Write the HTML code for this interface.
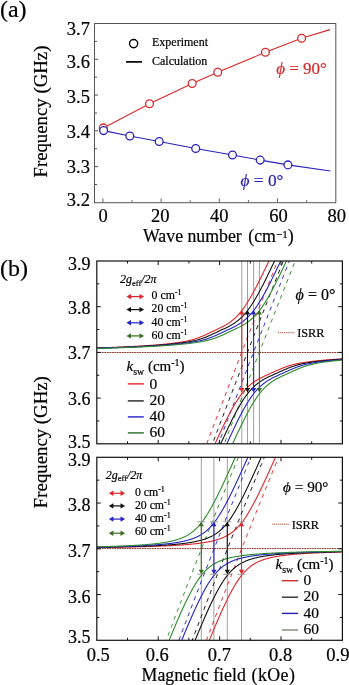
<!DOCTYPE html>
<html><head><meta charset="utf-8"><style>
html,body{margin:0;padding:0;background:#fff;width:349px;height:685px;overflow:hidden}
svg{display:block;filter:blur(0.25px)}
text{font-family:"Liberation Serif","Times New Roman",serif;stroke-width:0.2px}
</style></head><body>
<svg width="349" height="685" viewBox="0 0 349 685">
<rect width="349" height="685" fill="#fff"/>
<rect x="94.5" y="23.5" width="241.3" height="179.2" fill="none" stroke="#555" stroke-width="1"/>
<line x1="94.5" y1="184.51" x2="97.0" y2="184.51" stroke="#555" stroke-width="1"/>
<line x1="94.5" y1="166.62" x2="98.0" y2="166.62" stroke="#555" stroke-width="1"/>
<line x1="94.5" y1="148.73" x2="97.0" y2="148.73" stroke="#555" stroke-width="1"/>
<line x1="94.5" y1="130.84" x2="98.0" y2="130.84" stroke="#555" stroke-width="1"/>
<line x1="94.5" y1="112.95" x2="97.0" y2="112.95" stroke="#555" stroke-width="1"/>
<line x1="94.5" y1="95.06" x2="98.0" y2="95.06" stroke="#555" stroke-width="1"/>
<line x1="94.5" y1="77.17" x2="97.0" y2="77.17" stroke="#555" stroke-width="1"/>
<line x1="94.5" y1="59.28" x2="98.0" y2="59.28" stroke="#555" stroke-width="1"/>
<line x1="94.5" y1="41.39" x2="97.0" y2="41.39" stroke="#555" stroke-width="1"/>
<line x1="102.90" y1="202.7" x2="102.90" y2="198.39999999999998" stroke="#666" stroke-width="1"/>
<line x1="132.01" y1="202.7" x2="132.01" y2="200.1" stroke="#666" stroke-width="1"/>
<line x1="161.12" y1="202.7" x2="161.12" y2="198.39999999999998" stroke="#666" stroke-width="1"/>
<line x1="190.23" y1="202.7" x2="190.23" y2="200.1" stroke="#666" stroke-width="1"/>
<line x1="219.34" y1="202.7" x2="219.34" y2="198.39999999999998" stroke="#666" stroke-width="1"/>
<line x1="248.45" y1="202.7" x2="248.45" y2="200.1" stroke="#666" stroke-width="1"/>
<line x1="277.56" y1="202.7" x2="277.56" y2="198.39999999999998" stroke="#666" stroke-width="1"/>
<line x1="306.67" y1="202.7" x2="306.67" y2="200.1" stroke="#666" stroke-width="1"/>
<path d="M103.3,127.9 L149.5,103.7 L192.2,83.5 L217.7,72.2 L265.4,52.3 L301.6,38.3 L330.0,29.6" fill="none" stroke="#d42a2a" stroke-width="1.1"/>
<path d="M103.6,130.6 L129.8,136.0 L159.2,141.5 L195.7,148.5 L232.5,155.0 L260.2,160.1 L287.9,164.9 L330.5,171.0" fill="none" stroke="#2a22b8" stroke-width="1.1"/>
<circle cx="103.3" cy="127.9" r="3.9" fill="#fff" stroke="#d42a2a" stroke-width="1.3"/>
<circle cx="149.5" cy="103.7" r="3.9" fill="#fff" stroke="#d42a2a" stroke-width="1.3"/>
<circle cx="192.2" cy="83.5" r="3.9" fill="#fff" stroke="#d42a2a" stroke-width="1.3"/>
<circle cx="217.7" cy="72.2" r="3.9" fill="#fff" stroke="#d42a2a" stroke-width="1.3"/>
<circle cx="265.4" cy="52.3" r="3.9" fill="#fff" stroke="#d42a2a" stroke-width="1.3"/>
<circle cx="301.6" cy="38.3" r="3.9" fill="#fff" stroke="#d42a2a" stroke-width="1.3"/>
<circle cx="103.6" cy="130.6" r="3.9" fill="#fff" stroke="#2a22b8" stroke-width="1.3"/>
<circle cx="129.8" cy="136.0" r="3.9" fill="#fff" stroke="#2a22b8" stroke-width="1.3"/>
<circle cx="159.2" cy="141.5" r="3.9" fill="#fff" stroke="#2a22b8" stroke-width="1.3"/>
<circle cx="195.7" cy="148.5" r="3.9" fill="#fff" stroke="#2a22b8" stroke-width="1.3"/>
<circle cx="232.5" cy="155.0" r="3.9" fill="#fff" stroke="#2a22b8" stroke-width="1.3"/>
<circle cx="260.2" cy="160.1" r="3.9" fill="#fff" stroke="#2a22b8" stroke-width="1.3"/>
<circle cx="287.9" cy="164.9" r="3.9" fill="#fff" stroke="#2a22b8" stroke-width="1.3"/>
<circle cx="133.6" cy="43.6" r="4.1" fill="none" stroke="#000" stroke-width="1.4"/>
<line x1="126.1" y1="61.9" x2="142" y2="61.9" stroke="#000" stroke-width="1.7"/>
<clipPath id="clip0"><rect x="96.8" y="261.0" width="245.59999999999997" height="182.8"/></clipPath>
<g clip-path="url(#clip0)">
<line x1="241.8" y1="261.0" x2="241.8" y2="443.8" stroke="#a0a0a0" stroke-width="1"/>
<line x1="247.5" y1="261.0" x2="247.5" y2="443.8" stroke="#a0a0a0" stroke-width="1"/>
<line x1="253.6" y1="261.0" x2="253.6" y2="443.8" stroke="#a0a0a0" stroke-width="1"/>
<line x1="259.4" y1="261.0" x2="259.4" y2="443.8" stroke="#a0a0a0" stroke-width="1"/>
<line x1="96.8" y1="352.5" x2="342.4" y2="352.5" stroke="#863a30" stroke-width="1" stroke-dasharray="1.9 0.6"/>
<path d="M204.43,449.80 L205.18,447.80 L205.94,445.80 L206.70,443.80 L207.45,441.80 L208.21,439.80 L208.97,437.80 L209.73,435.80 L210.49,433.80 L211.25,431.80 L212.01,429.80 L212.77,427.80 L213.53,425.80 L214.29,423.80 L215.05,421.80 L215.81,419.80 L216.58,417.80 L217.34,415.80 L218.10,413.80 L218.86,411.80 L219.63,409.80 L220.39,407.80 L221.16,405.80 L221.92,403.80 L222.69,401.80 L223.45,399.80 L224.22,397.80 L224.99,395.80 L225.75,393.80 L226.52,391.80 L227.29,389.80 L228.06,387.80 L228.83,385.80 L229.60,383.80 L230.36,381.80 L231.13,379.80 L231.91,377.80 L232.68,375.80 L233.45,373.80 L234.22,371.80 L234.99,369.80 L235.76,367.80 L236.54,365.80 L237.31,363.80 L238.08,361.80 L238.86,359.80 L239.63,357.80 L240.40,355.80 L241.18,353.80 L241.96,351.80 L242.73,349.80 L243.51,347.80 L244.28,345.80 L245.06,343.80 L245.84,341.80 L246.62,339.80 L247.39,337.80 L248.17,335.80 L248.95,333.80 L249.73,331.80 L250.51,329.80 L251.29,327.80 L252.07,325.80 L252.85,323.80 L253.64,321.80 L254.42,319.80 L255.20,317.80 L255.98,315.80 L256.77,313.80 L257.55,311.80 L258.33,309.80 L259.12,307.80 L259.90,305.80 L260.69,303.80 L261.47,301.80 L262.26,299.80 L263.04,297.80 L263.83,295.80 L264.62,293.80 L265.41,291.80 L266.19,289.80 L266.98,287.80 L267.77,285.80 L268.56,283.80 L269.35,281.80 L270.14,279.80 L270.93,277.80 L271.72,275.80 L272.51,273.80 L273.30,271.80 L274.09,269.80 L274.89,267.80 L275.68,265.80 L276.47,263.80 L277.27,261.80 L278.06,259.80 L278.85,257.80 L279.65,255.80" fill="none" stroke="#e0262a" stroke-width="1" stroke-dasharray="4.1 4.43" stroke-dashoffset="2.03"/>
<path d="M210.13,449.80 L210.88,447.80 L211.64,445.80 L212.40,443.80 L213.15,441.80 L213.91,439.80 L214.67,437.80 L215.43,435.80 L216.19,433.80 L216.95,431.80 L217.71,429.80 L218.47,427.80 L219.23,425.80 L219.99,423.80 L220.75,421.80 L221.51,419.80 L222.28,417.80 L223.04,415.80 L223.80,413.80 L224.56,411.80 L225.33,409.80 L226.09,407.80 L226.86,405.80 L227.62,403.80 L228.39,401.80 L229.15,399.80 L229.92,397.80 L230.69,395.80 L231.45,393.80 L232.22,391.80 L232.99,389.80 L233.76,387.80 L234.53,385.80 L235.30,383.80 L236.06,381.80 L236.83,379.80 L237.61,377.80 L238.38,375.80 L239.15,373.80 L239.92,371.80 L240.69,369.80 L241.46,367.80 L242.24,365.80 L243.01,363.80 L243.78,361.80 L244.56,359.80 L245.33,357.80 L246.10,355.80 L246.88,353.80 L247.66,351.80 L248.43,349.80 L249.21,347.80 L249.98,345.80 L250.76,343.80 L251.54,341.80 L252.32,339.80 L253.09,337.80 L253.87,335.80 L254.65,333.80 L255.43,331.80 L256.21,329.80 L256.99,327.80 L257.77,325.80 L258.55,323.80 L259.34,321.80 L260.12,319.80 L260.90,317.80 L261.68,315.80 L262.47,313.80 L263.25,311.80 L264.03,309.80 L264.82,307.80 L265.60,305.80 L266.39,303.80 L267.17,301.80 L267.96,299.80 L268.74,297.80 L269.53,295.80 L270.32,293.80 L271.11,291.80 L271.89,289.80 L272.68,287.80 L273.47,285.80 L274.26,283.80 L275.05,281.80 L275.84,279.80 L276.63,277.80 L277.42,275.80 L278.21,273.80 L279.00,271.80 L279.79,269.80 L280.59,267.80 L281.38,265.80 L282.17,263.80 L282.97,261.80 L283.76,259.80 L284.55,257.80 L285.35,255.80" fill="none" stroke="#111111" stroke-width="1" stroke-dasharray="4.1 4.43" stroke-dashoffset="7.24"/>
<path d="M216.23,449.80 L216.98,447.80 L217.74,445.80 L218.50,443.80 L219.25,441.80 L220.01,439.80 L220.77,437.80 L221.53,435.80 L222.29,433.80 L223.05,431.80 L223.81,429.80 L224.57,427.80 L225.33,425.80 L226.09,423.80 L226.85,421.80 L227.61,419.80 L228.38,417.80 L229.14,415.80 L229.90,413.80 L230.66,411.80 L231.43,409.80 L232.19,407.80 L232.96,405.80 L233.72,403.80 L234.49,401.80 L235.25,399.80 L236.02,397.80 L236.79,395.80 L237.55,393.80 L238.32,391.80 L239.09,389.80 L239.86,387.80 L240.63,385.80 L241.40,383.80 L242.16,381.80 L242.93,379.80 L243.71,377.80 L244.48,375.80 L245.25,373.80 L246.02,371.80 L246.79,369.80 L247.56,367.80 L248.34,365.80 L249.11,363.80 L249.88,361.80 L250.66,359.80 L251.43,357.80 L252.20,355.80 L252.98,353.80 L253.76,351.80 L254.53,349.80 L255.31,347.80 L256.08,345.80 L256.86,343.80 L257.64,341.80 L258.42,339.80 L259.19,337.80 L259.97,335.80 L260.75,333.80 L261.53,331.80 L262.31,329.80 L263.09,327.80 L263.87,325.80 L264.65,323.80 L265.44,321.80 L266.22,319.80 L267.00,317.80 L267.78,315.80 L268.57,313.80 L269.35,311.80 L270.13,309.80 L270.92,307.80 L271.70,305.80 L272.49,303.80 L273.27,301.80 L274.06,299.80 L274.84,297.80 L275.63,295.80 L276.42,293.80 L277.21,291.80 L277.99,289.80 L278.78,287.80 L279.57,285.80 L280.36,283.80 L281.15,281.80 L281.94,279.80 L282.73,277.80 L283.52,275.80 L284.31,273.80 L285.10,271.80 L285.89,269.80 L286.69,267.80 L287.48,265.80 L288.27,263.80 L289.07,261.80 L289.86,259.80 L290.65,257.80 L291.45,255.80" fill="none" stroke="#2424c8" stroke-width="1" stroke-dasharray="4.1 4.43" stroke-dashoffset="4.24"/>
<path d="M222.03,449.80 L222.78,447.80 L223.54,445.80 L224.30,443.80 L225.05,441.80 L225.81,439.80 L226.57,437.80 L227.33,435.80 L228.09,433.80 L228.85,431.80 L229.61,429.80 L230.37,427.80 L231.13,425.80 L231.89,423.80 L232.65,421.80 L233.41,419.80 L234.18,417.80 L234.94,415.80 L235.70,413.80 L236.46,411.80 L237.23,409.80 L237.99,407.80 L238.76,405.80 L239.52,403.80 L240.29,401.80 L241.05,399.80 L241.82,397.80 L242.59,395.80 L243.35,393.80 L244.12,391.80 L244.89,389.80 L245.66,387.80 L246.43,385.80 L247.20,383.80 L247.96,381.80 L248.73,379.80 L249.51,377.80 L250.28,375.80 L251.05,373.80 L251.82,371.80 L252.59,369.80 L253.36,367.80 L254.14,365.80 L254.91,363.80 L255.68,361.80 L256.46,359.80 L257.23,357.80 L258.00,355.80 L258.78,353.80 L259.56,351.80 L260.33,349.80 L261.11,347.80 L261.88,345.80 L262.66,343.80 L263.44,341.80 L264.22,339.80 L264.99,337.80 L265.77,335.80 L266.55,333.80 L267.33,331.80 L268.11,329.80 L268.89,327.80 L269.67,325.80 L270.45,323.80 L271.24,321.80 L272.02,319.80 L272.80,317.80 L273.58,315.80 L274.37,313.80 L275.15,311.80 L275.93,309.80 L276.72,307.80 L277.50,305.80 L278.29,303.80 L279.07,301.80 L279.86,299.80 L280.64,297.80 L281.43,295.80 L282.22,293.80 L283.01,291.80 L283.79,289.80 L284.58,287.80 L285.37,285.80 L286.16,283.80 L286.95,281.80 L287.74,279.80 L288.53,277.80 L289.32,275.80 L290.11,273.80 L290.90,271.80 L291.69,269.80 L292.49,267.80 L293.28,265.80 L294.07,263.80 L294.87,261.80 L295.66,259.80 L296.45,257.80 L297.25,255.80" fill="none" stroke="#2f8a2f" stroke-width="1" stroke-dasharray="4.1 4.43" stroke-dashoffset="0.19"/>
<path d="M96.80,347.92 L97.30,347.90 L97.80,347.89 L98.30,347.87 L98.80,347.85 L99.30,347.84 L99.80,347.82 L100.30,347.81 L100.80,347.79 L101.30,347.77 L101.80,347.76 L102.30,347.74 L102.80,347.73 L103.30,347.71 L103.80,347.69 L104.30,347.68 L104.80,347.66 L105.30,347.64 L105.80,347.62 L106.30,347.61 L106.80,347.59 L107.30,347.57 L107.80,347.55 L108.30,347.54 L108.80,347.52 L109.30,347.50 L109.80,347.48 L110.30,347.46 L110.80,347.44 L111.30,347.43 L111.80,347.41 L112.30,347.39 L112.80,347.37 L113.30,347.35 L113.80,347.33 L114.30,347.31 L114.80,347.29 L115.30,347.27 L115.80,347.25 L116.30,347.23 L116.80,347.21 L117.30,347.19 L117.80,347.17 L118.30,347.15 L118.80,347.13 L119.30,347.11 L119.80,347.09 L120.30,347.07 L120.80,347.04 L121.30,347.02 L121.80,347.00 L122.30,346.98 L122.80,346.96 L123.30,346.93 L123.80,346.91 L124.30,346.89 L124.80,346.87 L125.30,346.84 L125.80,346.82 L126.30,346.80 L126.80,346.77 L127.30,346.75 L127.80,346.72 L128.30,346.70 L128.80,346.68 L129.30,346.65 L129.80,346.63 L130.30,346.60 L130.80,346.58 L131.30,346.55 L131.80,346.52 L132.30,346.50 L132.80,346.47 L133.30,346.45 L133.80,346.42 L134.30,346.39 L134.80,346.37 L135.30,346.34 L135.80,346.31 L136.30,346.28 L136.80,346.25 L137.30,346.23 L137.80,346.20 L138.30,346.17 L138.80,346.14 L139.30,346.11 L139.80,346.08 L140.30,346.05 L140.80,346.02 L141.30,345.99 L141.80,345.96 L142.30,345.93 L142.80,345.90 L143.30,345.86 L143.80,345.83 L144.30,345.80 L144.80,345.77 L145.30,345.74 L145.80,345.70 L146.30,345.67 L146.80,345.63 L147.30,345.60 L147.80,345.57 L148.30,345.53 L148.80,345.50 L149.30,345.46 L149.80,345.42 L150.30,345.39 L150.80,345.35 L151.30,345.31 L151.80,345.28 L152.30,345.24 L152.80,345.20 L153.30,345.16 L153.80,345.12 L154.30,345.08 L154.80,345.04 L155.30,345.00 L155.80,344.96 L156.30,344.92 L156.80,344.88 L157.30,344.84 L157.80,344.80 L158.30,344.75 L158.80,344.71 L159.30,344.67 L159.80,344.62 L160.30,344.58 L160.80,344.53 L161.30,344.49 L161.80,344.44 L162.30,344.39 L162.80,344.35 L163.30,344.30 L163.80,344.25 L164.30,344.20 L164.80,344.15 L165.30,344.10 L165.80,344.05 L166.30,344.00 L166.80,343.95 L167.30,343.90 L167.80,343.84 L168.30,343.79 L168.80,343.73 L169.30,343.68 L169.80,343.62 L170.30,343.57 L170.80,343.51 L171.30,343.45 L171.80,343.39 L172.30,343.33 L172.80,343.27 L173.30,343.21 L173.80,343.15 L174.30,343.08 L174.80,343.02 L175.30,342.95 L175.80,342.89 L176.30,342.82 L176.80,342.75 L177.30,342.68 L177.80,342.61 L178.30,342.54 L178.80,342.47 L179.30,342.39 L179.80,342.32 L180.30,342.24 L180.80,342.16 L181.30,342.08 L181.80,342.00 L182.30,341.91 L182.80,341.83 L183.30,341.74 L183.80,341.65 L184.30,341.56 L184.80,341.47 L185.30,341.37 L185.80,341.27 L186.30,341.17 L186.80,341.07 L187.30,340.96 L187.80,340.86 L188.30,340.75 L188.80,340.63 L189.30,340.51 L189.80,340.39 L190.30,340.27 L190.80,340.15 L191.30,340.02 L191.80,339.88 L192.30,339.75 L192.80,339.61 L193.30,339.46 L193.80,339.31 L194.30,339.16 L194.80,339.01 L195.30,338.85 L195.80,338.68 L196.30,338.52 L196.80,338.34 L197.30,338.17 L197.80,337.99 L198.30,337.81 L198.80,337.62 L199.30,337.43 L199.80,337.23 L200.30,337.04 L200.80,336.84 L201.30,336.63 L201.80,336.42 L202.30,336.21 L202.80,336.00 L203.30,335.78 L203.80,335.56 L204.30,335.34 L204.80,335.11 L205.30,334.89 L205.80,334.66 L206.30,334.43 L206.80,334.20 L207.30,333.96 L207.80,333.73 L208.30,333.49 L208.80,333.26 L209.30,333.02 L209.80,332.79 L210.30,332.55 L210.80,332.31 L211.30,332.08 L211.80,331.84 L212.30,331.60 L212.80,331.37 L213.30,331.13 L213.80,330.90 L214.30,330.66 L214.80,330.43 L215.30,330.19 L215.80,329.96 L216.30,329.73 L216.80,329.49 L217.30,329.26 L217.80,329.02 L218.30,328.78 L218.80,328.55 L219.30,328.31 L219.80,328.07 L220.30,327.82 L220.80,327.58 L221.30,327.33 L221.80,327.08 L222.30,326.83 L222.80,326.57 L223.30,326.31 L223.80,326.04 L224.30,325.77 L224.80,325.49 L225.30,325.21 L225.80,324.92 L226.30,324.63 L226.80,324.32 L227.30,324.01 L227.80,323.70 L228.30,323.37 L228.80,323.04 L229.30,322.70 L229.80,322.34 L230.30,321.98 L230.80,321.61 L231.30,321.23 L231.80,320.84 L232.30,320.44 L232.80,320.03 L233.30,319.61 L233.80,319.18 L234.30,318.73 L234.80,318.28 L235.30,317.81 L235.80,317.33 L236.30,316.84 L236.80,316.34 L237.30,315.83 L237.80,315.30 L238.30,314.77 L238.80,314.22 L239.30,313.66 L239.80,313.09 L240.30,312.50 L240.80,311.91 L241.30,311.30 L241.80,310.68 L242.30,310.01 L242.80,309.33 L243.30,308.63 L243.80,307.93 L244.30,307.21 L244.80,306.48 L245.30,305.74 L245.80,304.99 L246.30,304.23 L246.80,303.45 L247.30,302.66 L247.80,301.87 L248.30,301.06 L248.80,300.24 L249.30,299.41 L249.80,298.56 L250.30,297.71 L250.80,296.85 L251.30,295.97 L251.80,295.09 L252.30,294.19 L252.80,293.29 L253.30,292.38 L253.80,291.45 L254.30,290.52 L254.80,289.58 L255.30,288.63 L255.80,287.68 L256.30,286.71 L256.80,285.74 L257.30,284.77 L257.80,283.78 L258.30,282.79 L258.80,281.79 L259.30,280.79 L259.80,279.78 L260.30,278.77 L260.80,277.76 L261.30,276.74 L261.80,275.71 L262.30,274.69 L262.80,273.66 L263.30,272.63 L263.80,271.59 L264.30,270.56 L264.80,269.52 L265.30,268.48 L265.80,267.44 L266.30,266.40 L266.80,265.36 L267.30,264.32 L267.80,263.28 L268.30,262.24 L268.80,261.20 L269.30,260.16 L269.80,259.12 L270.30,258.08 L270.80,257.04 L271.30,256.00 L271.80,254.96 L272.30,253.92 L272.80,252.89 L273.30,251.85 L273.80,250.81 L274.30,249.78 L274.80,248.74 L275.30,247.71 L275.80,246.67 L276.30,245.63 L276.80,244.60 L277.30,243.56 L277.80,242.52 L278.30,241.48" fill="none" stroke="#e0262a" stroke-width="1.1"/>
<path d="M205.80,463.71 L206.30,462.62 L206.80,461.53 L207.30,460.45 L207.80,459.36 L208.30,458.28 L208.80,457.19 L209.30,456.11 L209.80,455.03 L210.30,453.95 L210.80,452.87 L211.30,451.79 L211.80,450.71 L212.30,449.63 L212.80,448.55 L213.30,447.47 L213.80,446.39 L214.30,445.31 L214.80,444.23 L215.30,443.15 L215.80,442.07 L216.30,441.00 L216.80,439.92 L217.30,438.84 L217.80,437.77 L218.30,436.70 L218.80,435.62 L219.30,434.55 L219.80,433.48 L220.30,432.42 L220.80,431.36 L221.30,430.30 L221.80,429.24 L222.30,428.19 L222.80,427.14 L223.30,426.10 L223.80,425.06 L224.30,424.02 L224.80,423.00 L225.30,421.97 L225.80,420.96 L226.30,419.95 L226.80,418.95 L227.30,417.96 L227.80,416.97 L228.30,416.00 L228.80,415.03 L229.30,414.07 L229.80,413.12 L230.30,412.19 L230.80,411.26 L231.30,410.34 L231.80,409.43 L232.30,408.53 L232.80,407.65 L233.30,406.77 L233.80,405.91 L234.30,405.06 L234.80,404.22 L235.30,403.39 L235.80,402.57 L236.30,401.77 L236.80,400.97 L237.30,400.19 L237.80,399.43 L238.30,398.67 L238.80,397.93 L239.30,397.19 L239.80,396.48 L240.30,395.77 L240.80,395.07 L241.30,394.39 L241.80,393.72 L242.30,393.10 L242.80,392.49 L243.30,391.90 L243.80,391.32 L244.30,390.75 L244.80,390.19 L245.30,389.64 L245.80,389.11 L246.30,388.59 L246.80,388.08 L247.30,387.58 L247.80,387.09 L248.30,386.62 L248.80,386.15 L249.30,385.70 L249.80,385.26 L250.30,384.83 L250.80,384.41 L251.30,384.01 L251.80,383.61 L252.30,383.22 L252.80,382.85 L253.30,382.48 L253.80,382.12 L254.30,381.78 L254.80,381.44 L255.30,381.11 L255.80,380.79 L256.30,380.47 L256.80,380.17 L257.30,379.87 L257.80,379.58 L258.30,379.29 L258.80,379.01 L259.30,378.74 L259.80,378.47 L260.30,378.21 L260.80,377.95 L261.30,377.70 L261.80,377.45 L262.30,377.21 L262.80,376.96 L263.30,376.72 L263.80,376.49 L264.30,376.25 L264.80,376.02 L265.30,375.79 L265.80,375.56 L266.30,375.33 L266.80,375.10 L267.30,374.87 L267.80,374.65 L268.30,374.42 L268.80,374.19 L269.30,373.97 L269.80,373.74 L270.30,373.52 L270.80,373.29 L271.30,373.06 L271.80,372.84 L272.30,372.61 L272.80,372.38 L273.30,372.16 L273.80,371.93 L274.30,371.70 L274.80,371.48 L275.30,371.25 L275.80,371.02 L276.30,370.80 L276.80,370.58 L277.30,370.35 L277.80,370.13 L278.30,369.91 L278.80,369.69 L279.30,369.47 L279.80,369.26 L280.30,369.05 L280.80,368.84 L281.30,368.63 L281.80,368.42 L282.30,368.22 L282.80,368.02 L283.30,367.82 L283.80,367.62 L284.30,367.43 L284.80,367.24 L285.30,367.06 L285.80,366.88 L286.30,366.70 L286.80,366.52 L287.30,366.35 L287.80,366.18 L288.30,366.02 L288.80,365.86 L289.30,365.70 L289.80,365.55 L290.30,365.40 L290.80,365.25 L291.30,365.11 L291.80,364.97 L292.30,364.83 L292.80,364.70 L293.30,364.57 L293.80,364.45 L294.30,364.32 L294.80,364.20 L295.30,364.09 L295.80,363.97 L296.30,363.86 L296.80,363.75 L297.30,363.65 L297.80,363.55 L298.30,363.45 L298.80,363.35 L299.30,363.25 L299.80,363.16 L300.30,363.07 L300.80,362.98 L301.30,362.89 L301.80,362.80 L302.30,362.72 L302.80,362.64 L303.30,362.56 L303.80,362.48 L304.30,362.40 L304.80,362.33 L305.30,362.25 L305.80,362.18 L306.30,362.11 L306.80,362.04 L307.30,361.97 L307.80,361.90 L308.30,361.83 L308.80,361.77 L309.30,361.70 L309.80,361.64 L310.30,361.58 L310.80,361.52 L311.30,361.46 L311.80,361.40 L312.30,361.34 L312.80,361.28 L313.30,361.22 L313.80,361.16 L314.30,361.11 L314.80,361.05 L315.30,361.00 L315.80,360.95 L316.30,360.89 L316.80,360.84 L317.30,360.79 L317.80,360.74 L318.30,360.69 L318.80,360.64 L319.30,360.59 L319.80,360.54 L320.30,360.49 L320.80,360.45 L321.30,360.40 L321.80,360.35 L322.30,360.31 L322.80,360.26 L323.30,360.22 L323.80,360.17 L324.30,360.13 L324.80,360.09 L325.30,360.04 L325.80,360.00 L326.30,359.96 L326.80,359.92 L327.30,359.88 L327.80,359.84 L328.30,359.80 L328.80,359.76 L329.30,359.72 L329.80,359.68 L330.30,359.64 L330.80,359.60 L331.30,359.56 L331.80,359.53 L332.30,359.49 L332.80,359.45 L333.30,359.42 L333.80,359.38 L334.30,359.34 L334.80,359.31 L335.30,359.27 L335.80,359.24 L336.30,359.21 L336.80,359.17 L337.30,359.14 L337.80,359.11 L338.30,359.07 L338.80,359.04 L339.30,359.01 L339.80,358.98 L340.30,358.94 L340.80,358.91 L341.30,358.88 L341.80,358.85 L342.30,358.82" fill="none" stroke="#e0262a" stroke-width="1.1"/>
<path d="M96.80,348.08 L97.30,348.07 L97.80,348.06 L98.30,348.04 L98.80,348.03 L99.30,348.01 L99.80,348.00 L100.30,347.98 L100.80,347.97 L101.30,347.95 L101.80,347.94 L102.30,347.92 L102.80,347.91 L103.30,347.89 L103.80,347.88 L104.30,347.86 L104.80,347.85 L105.30,347.83 L105.80,347.81 L106.30,347.80 L106.80,347.78 L107.30,347.76 L107.80,347.75 L108.30,347.73 L108.80,347.72 L109.30,347.70 L109.80,347.68 L110.30,347.67 L110.80,347.65 L111.30,347.63 L111.80,347.61 L112.30,347.60 L112.80,347.58 L113.30,347.56 L113.80,347.54 L114.30,347.53 L114.80,347.51 L115.30,347.49 L115.80,347.47 L116.30,347.45 L116.80,347.43 L117.30,347.42 L117.80,347.40 L118.30,347.38 L118.80,347.36 L119.30,347.34 L119.80,347.32 L120.30,347.30 L120.80,347.28 L121.30,347.26 L121.80,347.24 L122.30,347.22 L122.80,347.20 L123.30,347.18 L123.80,347.16 L124.30,347.14 L124.80,347.12 L125.30,347.10 L125.80,347.07 L126.30,347.05 L126.80,347.03 L127.30,347.01 L127.80,346.99 L128.30,346.97 L128.80,346.94 L129.30,346.92 L129.80,346.90 L130.30,346.88 L130.80,346.85 L131.30,346.83 L131.80,346.81 L132.30,346.78 L132.80,346.76 L133.30,346.73 L133.80,346.71 L134.30,346.69 L134.80,346.66 L135.30,346.64 L135.80,346.61 L136.30,346.59 L136.80,346.56 L137.30,346.53 L137.80,346.51 L138.30,346.48 L138.80,346.46 L139.30,346.43 L139.80,346.40 L140.30,346.38 L140.80,346.35 L141.30,346.32 L141.80,346.29 L142.30,346.27 L142.80,346.24 L143.30,346.21 L143.80,346.18 L144.30,346.15 L144.80,346.12 L145.30,346.09 L145.80,346.06 L146.30,346.03 L146.80,346.00 L147.30,345.97 L147.80,345.94 L148.30,345.91 L148.80,345.88 L149.30,345.85 L149.80,345.81 L150.30,345.78 L150.80,345.75 L151.30,345.72 L151.80,345.68 L152.30,345.65 L152.80,345.61 L153.30,345.58 L153.80,345.55 L154.30,345.51 L154.80,345.47 L155.30,345.44 L155.80,345.40 L156.30,345.37 L156.80,345.33 L157.30,345.29 L157.80,345.25 L158.30,345.22 L158.80,345.18 L159.30,345.14 L159.80,345.10 L160.30,345.06 L160.80,345.02 L161.30,344.98 L161.80,344.94 L162.30,344.90 L162.80,344.86 L163.30,344.81 L163.80,344.77 L164.30,344.73 L164.80,344.69 L165.30,344.64 L165.80,344.60 L166.30,344.55 L166.80,344.51 L167.30,344.46 L167.80,344.41 L168.30,344.37 L168.80,344.32 L169.30,344.27 L169.80,344.22 L170.30,344.17 L170.80,344.12 L171.30,344.07 L171.80,344.02 L172.30,343.97 L172.80,343.92 L173.30,343.86 L173.80,343.81 L174.30,343.76 L174.80,343.70 L175.30,343.65 L175.80,343.59 L176.30,343.53 L176.80,343.47 L177.30,343.42 L177.80,343.36 L178.30,343.30 L178.80,343.23 L179.30,343.17 L179.80,343.11 L180.30,343.05 L180.80,342.98 L181.30,342.91 L181.80,342.85 L182.30,342.78 L182.80,342.71 L183.30,342.64 L183.80,342.57 L184.30,342.50 L184.80,342.42 L185.30,342.35 L185.80,342.27 L186.30,342.19 L186.80,342.11 L187.30,342.03 L187.80,341.95 L188.30,341.86 L188.80,341.78 L189.30,341.69 L189.80,341.60 L190.30,341.50 L190.80,341.41 L191.30,341.31 L191.80,341.21 L192.30,341.11 L192.80,341.01 L193.30,340.90 L193.80,340.79 L194.30,340.68 L194.80,340.56 L195.30,340.44 L195.80,340.32 L196.30,340.20 L196.80,340.07 L197.30,339.94 L197.80,339.80 L198.30,339.66 L198.80,339.52 L199.30,339.37 L199.80,339.22 L200.30,339.07 L200.80,338.91 L201.30,338.75 L201.80,338.58 L202.30,338.41 L202.80,338.24 L203.30,338.06 L203.80,337.88 L204.30,337.70 L204.80,337.51 L205.30,337.31 L205.80,337.12 L206.30,336.92 L206.80,336.71 L207.30,336.51 L207.80,336.30 L208.30,336.08 L208.80,335.87 L209.30,335.65 L209.80,335.43 L210.30,335.20 L210.80,334.98 L211.30,334.75 L211.80,334.52 L212.30,334.29 L212.80,334.06 L213.30,333.82 L213.80,333.59 L214.30,333.35 L214.80,333.12 L215.30,332.88 L215.80,332.64 L216.30,332.41 L216.80,332.17 L217.30,331.94 L217.80,331.70 L218.30,331.46 L218.80,331.23 L219.30,330.99 L219.80,330.76 L220.30,330.52 L220.80,330.29 L221.30,330.05 L221.80,329.82 L222.30,329.59 L222.80,329.35 L223.30,329.12 L223.80,328.88 L224.30,328.64 L224.80,328.40 L225.30,328.16 L225.80,327.92 L226.30,327.68 L226.80,327.43 L227.30,327.18 L227.80,326.93 L228.30,326.67 L228.80,326.41 L229.30,326.15 L229.80,325.88 L230.30,325.60 L230.80,325.32 L231.30,325.04 L231.80,324.74 L232.30,324.44 L232.80,324.14 L233.30,323.82 L233.80,323.50 L234.30,323.17 L234.80,322.83 L235.30,322.49 L235.80,322.13 L236.30,321.76 L236.80,321.39 L237.30,321.00 L237.80,320.60 L238.30,320.20 L238.80,319.78 L239.30,319.35 L239.80,318.91 L240.30,318.46 L240.80,318.00 L241.30,317.52 L241.80,317.04 L242.30,316.54 L242.80,316.03 L243.30,315.51 L243.80,314.98 L244.30,314.44 L244.80,313.88 L245.30,313.32 L245.80,312.74 L246.30,312.15 L246.80,311.54 L247.30,310.93 L247.80,310.28 L248.30,309.60 L248.80,308.91 L249.30,308.21 L249.80,307.50 L250.30,306.78 L250.80,306.04 L251.30,305.29 L251.80,304.53 L252.30,303.76 L252.80,302.98 L253.30,302.19 L253.80,301.38 L254.30,300.57 L254.80,299.74 L255.30,298.90 L255.80,298.05 L256.30,297.19 L256.80,296.32 L257.30,295.44 L257.80,294.55 L258.30,293.65 L258.80,292.74 L259.30,291.82 L259.80,290.90 L260.30,289.96 L260.80,289.02 L261.30,288.06 L261.80,287.10 L262.30,286.13 L262.80,285.16 L263.30,284.18 L263.80,283.19 L264.30,282.19 L264.80,281.19 L265.30,280.19 L265.80,279.18 L266.30,278.16 L266.80,277.15 L267.30,276.12 L267.80,275.10 L268.30,274.07 L268.80,273.04 L269.30,272.01 L269.80,270.97 L270.30,269.93 L270.80,268.90 L271.30,267.86 L271.80,266.82 L272.30,265.78 L272.80,264.74 L273.30,263.69 L273.80,262.65 L274.30,261.61 L274.80,260.57 L275.30,259.53 L275.80,258.49 L276.30,257.45 L276.80,256.41 L277.30,255.38 L277.80,254.34 L278.30,253.30 L278.80,252.26 L279.30,251.23 L279.80,250.19 L280.30,249.16 L280.80,248.12 L281.30,247.08 L281.80,246.05 L282.30,245.01 L282.80,243.98 L283.30,242.94 L283.80,241.90" fill="none" stroke="#111111" stroke-width="1.1"/>
<path d="M211.80,463.06 L212.30,461.97 L212.80,460.88 L213.30,459.79 L213.80,458.71 L214.30,457.63 L214.80,456.54 L215.30,455.46 L215.80,454.38 L216.30,453.30 L216.80,452.22 L217.30,451.14 L217.80,450.06 L218.30,448.98 L218.80,447.90 L219.30,446.82 L219.80,445.74 L220.30,444.66 L220.80,443.58 L221.30,442.51 L221.80,441.43 L222.30,440.35 L222.80,439.27 L223.30,438.20 L223.80,437.12 L224.30,436.05 L224.80,434.98 L225.30,433.91 L225.80,432.84 L226.30,431.78 L226.80,430.72 L227.30,429.66 L227.80,428.61 L228.30,427.56 L228.80,426.51 L229.30,425.47 L229.80,424.44 L230.30,423.41 L230.80,422.38 L231.30,421.36 L231.80,420.35 L232.30,419.35 L232.80,418.35 L233.30,417.37 L233.80,416.39 L234.30,415.42 L234.80,414.46 L235.30,413.50 L235.80,412.56 L236.30,411.63 L236.80,410.70 L237.30,409.79 L237.80,408.89 L238.30,408.00 L238.80,407.12 L239.30,406.25 L239.80,405.40 L240.30,404.55 L240.80,403.72 L241.30,402.90 L241.80,402.09 L242.30,401.29 L242.80,400.50 L243.30,399.73 L243.80,398.97 L244.30,398.22 L244.80,397.49 L245.30,396.76 L245.80,396.05 L246.30,395.35 L246.80,394.66 L247.30,393.98 L247.80,393.35 L248.30,392.73 L248.80,392.14 L249.30,391.55 L249.80,390.97 L250.30,390.41 L250.80,389.86 L251.30,389.32 L251.80,388.79 L252.30,388.28 L252.80,387.78 L253.30,387.29 L253.80,386.81 L254.30,386.34 L254.80,385.88 L255.30,385.44 L255.80,385.00 L256.30,384.58 L256.80,384.17 L257.30,383.77 L257.80,383.38 L258.30,383.00 L258.80,382.63 L259.30,382.27 L259.80,381.91 L260.30,381.57 L260.80,381.24 L261.30,380.91 L261.80,380.60 L262.30,380.29 L262.80,379.99 L263.30,379.69 L263.80,379.41 L264.30,379.13 L264.80,378.85 L265.30,378.58 L265.80,378.32 L266.30,378.06 L266.80,377.80 L267.30,377.55 L267.80,377.30 L268.30,377.06 L268.80,376.82 L269.30,376.58 L269.80,376.35 L270.30,376.11 L270.80,375.88 L271.30,375.65 L271.80,375.42 L272.30,375.19 L272.80,374.96 L273.30,374.74 L273.80,374.51 L274.30,374.28 L274.80,374.06 L275.30,373.83 L275.80,373.61 L276.30,373.38 L276.80,373.15 L277.30,372.93 L277.80,372.70 L278.30,372.47 L278.80,372.25 L279.30,372.02 L279.80,371.79 L280.30,371.57 L280.80,371.34 L281.30,371.11 L281.80,370.89 L282.30,370.67 L282.80,370.44 L283.30,370.22 L283.80,370.00 L284.30,369.78 L284.80,369.56 L285.30,369.35 L285.80,369.13 L286.30,368.92 L286.80,368.71 L287.30,368.50 L287.80,368.30 L288.30,368.10 L288.80,367.90 L289.30,367.70 L289.80,367.51 L290.30,367.32 L290.80,367.13 L291.30,366.95 L291.80,366.77 L292.30,366.59 L292.80,366.42 L293.30,366.25 L293.80,366.08 L294.30,365.92 L294.80,365.76 L295.30,365.61 L295.80,365.46 L296.30,365.31 L296.80,365.17 L297.30,365.03 L297.80,364.89 L298.30,364.76 L298.80,364.62 L299.30,364.50 L299.80,364.37 L300.30,364.25 L300.80,364.13 L301.30,364.02 L301.80,363.91 L302.30,363.80 L302.80,363.69 L303.30,363.59 L303.80,363.49 L304.30,363.39 L304.80,363.29 L305.30,363.19 L305.80,363.10 L306.30,363.01 L306.80,362.92 L307.30,362.84 L307.80,362.75 L308.30,362.67 L308.80,362.59 L309.30,362.51 L309.80,362.43 L310.30,362.36 L310.80,362.28 L311.30,362.21 L311.80,362.14 L312.30,362.06 L312.80,362.00 L313.30,361.93 L313.80,361.86 L314.30,361.79 L314.80,361.73 L315.30,361.67 L315.80,361.60 L316.30,361.54 L316.80,361.48 L317.30,361.42 L317.80,361.36 L318.30,361.30 L318.80,361.24 L319.30,361.19 L319.80,361.13 L320.30,361.08 L320.80,361.02 L321.30,360.97 L321.80,360.91 L322.30,360.86 L322.80,360.81 L323.30,360.76 L323.80,360.71 L324.30,360.66 L324.80,360.61 L325.30,360.56 L325.80,360.51 L326.30,360.46 L326.80,360.42 L327.30,360.37 L327.80,360.33 L328.30,360.28 L328.80,360.23 L329.30,360.19 L329.80,360.15 L330.30,360.10 L330.80,360.06 L331.30,360.02 L331.80,359.98 L332.30,359.93 L332.80,359.89 L333.30,359.85 L333.80,359.81 L334.30,359.77 L334.80,359.73 L335.30,359.69 L335.80,359.65 L336.30,359.62 L336.80,359.58 L337.30,359.54 L337.80,359.50 L338.30,359.47 L338.80,359.43 L339.30,359.39 L339.80,359.36 L340.30,359.32 L340.80,359.29 L341.30,359.25 L341.80,359.22 L342.30,359.19" fill="none" stroke="#111111" stroke-width="1.1"/>
<path d="M96.80,348.25 L97.30,348.24 L97.80,348.22 L98.30,348.21 L98.80,348.20 L99.30,348.18 L99.80,348.17 L100.30,348.16 L100.80,348.14 L101.30,348.13 L101.80,348.12 L102.30,348.10 L102.80,348.09 L103.30,348.07 L103.80,348.06 L104.30,348.04 L104.80,348.03 L105.30,348.02 L105.80,348.00 L106.30,347.99 L106.80,347.97 L107.30,347.96 L107.80,347.94 L108.30,347.93 L108.80,347.91 L109.30,347.89 L109.80,347.88 L110.30,347.86 L110.80,347.85 L111.30,347.83 L111.80,347.82 L112.30,347.80 L112.80,347.78 L113.30,347.77 L113.80,347.75 L114.30,347.74 L114.80,347.72 L115.30,347.70 L115.80,347.69 L116.30,347.67 L116.80,347.65 L117.30,347.63 L117.80,347.62 L118.30,347.60 L118.80,347.58 L119.30,347.56 L119.80,347.55 L120.30,347.53 L120.80,347.51 L121.30,347.49 L121.80,347.47 L122.30,347.46 L122.80,347.44 L123.30,347.42 L123.80,347.40 L124.30,347.38 L124.80,347.36 L125.30,347.34 L125.80,347.32 L126.30,347.30 L126.80,347.28 L127.30,347.26 L127.80,347.24 L128.30,347.22 L128.80,347.20 L129.30,347.18 L129.80,347.16 L130.30,347.14 L130.80,347.12 L131.30,347.10 L131.80,347.08 L132.30,347.06 L132.80,347.04 L133.30,347.01 L133.80,346.99 L134.30,346.97 L134.80,346.95 L135.30,346.93 L135.80,346.90 L136.30,346.88 L136.80,346.86 L137.30,346.83 L137.80,346.81 L138.30,346.79 L138.80,346.76 L139.30,346.74 L139.80,346.71 L140.30,346.69 L140.80,346.67 L141.30,346.64 L141.80,346.62 L142.30,346.59 L142.80,346.57 L143.30,346.54 L143.80,346.51 L144.30,346.49 L144.80,346.46 L145.30,346.44 L145.80,346.41 L146.30,346.38 L146.80,346.35 L147.30,346.33 L147.80,346.30 L148.30,346.27 L148.80,346.24 L149.30,346.21 L149.80,346.19 L150.30,346.16 L150.80,346.13 L151.30,346.10 L151.80,346.07 L152.30,346.04 L152.80,346.01 L153.30,345.98 L153.80,345.95 L154.30,345.92 L154.80,345.88 L155.30,345.85 L155.80,345.82 L156.30,345.79 L156.80,345.76 L157.30,345.72 L157.80,345.69 L158.30,345.66 L158.80,345.62 L159.30,345.59 L159.80,345.55 L160.30,345.52 L160.80,345.48 L161.30,345.45 L161.80,345.41 L162.30,345.37 L162.80,345.34 L163.30,345.30 L163.80,345.26 L164.30,345.22 L164.80,345.19 L165.30,345.15 L165.80,345.11 L166.30,345.07 L166.80,345.03 L167.30,344.99 L167.80,344.95 L168.30,344.91 L168.80,344.87 L169.30,344.82 L169.80,344.78 L170.30,344.74 L170.80,344.69 L171.30,344.65 L171.80,344.61 L172.30,344.56 L172.80,344.52 L173.30,344.47 L173.80,344.42 L174.30,344.38 L174.80,344.33 L175.30,344.28 L175.80,344.23 L176.30,344.18 L176.80,344.13 L177.30,344.08 L177.80,344.03 L178.30,343.98 L178.80,343.93 L179.30,343.87 L179.80,343.82 L180.30,343.77 L180.80,343.71 L181.30,343.66 L181.80,343.60 L182.30,343.54 L182.80,343.49 L183.30,343.43 L183.80,343.37 L184.30,343.31 L184.80,343.25 L185.30,343.18 L185.80,343.12 L186.30,343.06 L186.80,342.99 L187.30,342.93 L187.80,342.86 L188.30,342.79 L188.80,342.72 L189.30,342.65 L189.80,342.58 L190.30,342.51 L190.80,342.44 L191.30,342.36 L191.80,342.29 L192.30,342.21 L192.80,342.13 L193.30,342.05 L193.80,341.96 L194.30,341.88 L194.80,341.79 L195.30,341.71 L195.80,341.62 L196.30,341.52 L196.80,341.43 L197.30,341.33 L197.80,341.23 L198.30,341.13 L198.80,341.03 L199.30,340.92 L199.80,340.81 L200.30,340.70 L200.80,340.59 L201.30,340.47 L201.80,340.35 L202.30,340.22 L202.80,340.09 L203.30,339.96 L203.80,339.83 L204.30,339.69 L204.80,339.55 L205.30,339.40 L205.80,339.25 L206.30,339.10 L206.80,338.94 L207.30,338.78 L207.80,338.62 L208.30,338.45 L208.80,338.27 L209.30,338.10 L209.80,337.92 L210.30,337.73 L210.80,337.54 L211.30,337.35 L211.80,337.16 L212.30,336.96 L212.80,336.75 L213.30,336.55 L213.80,336.34 L214.30,336.12 L214.80,335.91 L215.30,335.69 L215.80,335.47 L216.30,335.25 L216.80,335.02 L217.30,334.79 L217.80,334.56 L218.30,334.33 L218.80,334.10 L219.30,333.87 L219.80,333.63 L220.30,333.40 L220.80,333.16 L221.30,332.93 L221.80,332.69 L222.30,332.46 L222.80,332.22 L223.30,331.98 L223.80,331.75 L224.30,331.51 L224.80,331.27 L225.30,331.04 L225.80,330.80 L226.30,330.57 L226.80,330.34 L227.30,330.10 L227.80,329.87 L228.30,329.63 L228.80,329.40 L229.30,329.16 L229.80,328.93 L230.30,328.69 L230.80,328.45 L231.30,328.21 L231.80,327.97 L232.30,327.73 L232.80,327.48 L233.30,327.23 L233.80,326.98 L234.30,326.72 L234.80,326.46 L235.30,326.20 L235.80,325.93 L236.30,325.66 L236.80,325.38 L237.30,325.09 L237.80,324.80 L238.30,324.51 L238.80,324.20 L239.30,323.89 L239.80,323.57 L240.30,323.24 L240.80,322.90 L241.30,322.56 L241.80,322.20 L242.30,321.84 L242.80,321.46 L243.30,321.08 L243.80,320.68 L244.30,320.28 L244.80,319.86 L245.30,319.44 L245.80,319.00 L246.30,318.55 L246.80,318.09 L247.30,317.62 L247.80,317.14 L248.30,316.64 L248.80,316.14 L249.30,315.62 L249.80,315.09 L250.30,314.55 L250.80,313.99 L251.30,313.43 L251.80,312.85 L252.30,312.27 L252.80,311.67 L253.30,311.05 L253.80,310.42 L254.30,309.74 L254.80,309.05 L255.30,308.35 L255.80,307.64 L256.30,306.92 L256.80,306.19 L257.30,305.44 L257.80,304.69 L258.30,303.92 L258.80,303.14 L259.30,302.35 L259.80,301.54 L260.30,300.73 L260.80,299.91 L261.30,299.07 L261.80,298.22 L262.30,297.37 L262.80,296.50 L263.30,295.62 L263.80,294.73 L264.30,293.83 L264.80,292.93 L265.30,292.01 L265.80,291.08 L266.30,290.15 L266.80,289.20 L267.30,288.25 L267.80,287.29 L268.30,286.33 L268.80,285.35 L269.30,284.37 L269.80,283.39 L270.30,282.39 L270.80,281.39 L271.30,280.39 L271.80,279.38 L272.30,278.37 L272.80,277.35 L273.30,276.33 L273.80,275.30 L274.30,274.28 L274.80,273.25 L275.30,272.21 L275.80,271.18 L276.30,270.14 L276.80,269.10 L277.30,268.06 L277.80,267.02 L278.30,265.98 L278.80,264.94 L279.30,263.90 L279.80,262.86 L280.30,261.82 L280.80,260.78 L281.30,259.74 L281.80,258.70 L282.30,257.66 L282.80,256.62 L283.30,255.58 L283.80,254.55 L284.30,253.51 L284.80,252.47 L285.30,251.44 L285.80,250.40 L286.30,249.36 L286.80,248.33 L287.30,247.29 L287.80,246.26 L288.30,245.22 L288.80,244.18 L289.30,243.15 L289.80,242.11 L290.30,241.07" fill="none" stroke="#2424c8" stroke-width="1.1"/>
<path d="M217.80,463.28 L218.30,462.19 L218.80,461.10 L219.30,460.01 L219.80,458.93 L220.30,457.84 L220.80,456.76 L221.30,455.68 L221.80,454.60 L222.30,453.51 L222.80,452.43 L223.30,451.35 L223.80,450.27 L224.30,449.19 L224.80,448.12 L225.30,447.04 L225.80,445.96 L226.30,444.88 L226.80,443.80 L227.30,442.72 L227.80,441.64 L228.30,440.57 L228.80,439.49 L229.30,438.41 L229.80,437.34 L230.30,436.27 L230.80,435.19 L231.30,434.13 L231.80,433.06 L232.30,431.99 L232.80,430.93 L233.30,429.87 L233.80,428.82 L234.30,427.77 L234.80,426.72 L235.30,425.68 L235.80,424.64 L236.30,423.61 L236.80,422.59 L237.30,421.57 L237.80,420.56 L238.30,419.55 L238.80,418.55 L239.30,417.56 L239.80,416.58 L240.30,415.61 L240.80,414.65 L241.30,413.69 L241.80,412.75 L242.30,411.81 L242.80,410.89 L243.30,409.97 L243.80,409.07 L244.30,408.18 L244.80,407.30 L245.30,406.43 L245.80,405.57 L246.30,404.72 L246.80,403.88 L247.30,403.06 L247.80,402.25 L248.30,401.45 L248.80,400.66 L249.30,399.89 L249.80,399.12 L250.30,398.37 L250.80,397.63 L251.30,396.91 L251.80,396.19 L252.30,395.49 L252.80,394.80 L253.30,394.12 L253.80,393.47 L254.30,392.86 L254.80,392.25 L255.30,391.67 L255.80,391.09 L256.30,390.52 L256.80,389.97 L257.30,389.43 L257.80,388.90 L258.30,388.38 L258.80,387.88 L259.30,387.38 L259.80,386.90 L260.30,386.43 L260.80,385.97 L261.30,385.52 L261.80,385.09 L262.30,384.66 L262.80,384.25 L263.30,383.85 L263.80,383.45 L264.30,383.07 L264.80,382.70 L265.30,382.34 L265.80,381.98 L266.30,381.64 L266.80,381.31 L267.30,380.98 L267.80,380.66 L268.30,380.35 L268.80,380.05 L269.30,379.75 L269.80,379.46 L270.30,379.18 L270.80,378.90 L271.30,378.63 L271.80,378.37 L272.30,378.11 L272.80,377.85 L273.30,377.60 L273.80,377.35 L274.30,377.11 L274.80,376.87 L275.30,376.63 L275.80,376.39 L276.30,376.16 L276.80,375.93 L277.30,375.70 L277.80,375.47 L278.30,375.24 L278.80,375.01 L279.30,374.78 L279.80,374.56 L280.30,374.33 L280.80,374.10 L281.30,373.88 L281.80,373.65 L282.30,373.43 L282.80,373.20 L283.30,372.97 L283.80,372.75 L284.30,372.52 L284.80,372.29 L285.30,372.07 L285.80,371.84 L286.30,371.61 L286.80,371.39 L287.30,371.16 L287.80,370.93 L288.30,370.71 L288.80,370.49 L289.30,370.26 L289.80,370.04 L290.30,369.82 L290.80,369.61 L291.30,369.39 L291.80,369.17 L292.30,368.96 L292.80,368.75 L293.30,368.54 L293.80,368.34 L294.30,368.14 L294.80,367.94 L295.30,367.74 L295.80,367.55 L296.30,367.35 L296.80,367.17 L297.30,366.98 L297.80,366.80 L298.30,366.63 L298.80,366.45 L299.30,366.28 L299.80,366.12 L300.30,365.95 L300.80,365.80 L301.30,365.64 L301.80,365.49 L302.30,365.34 L302.80,365.20 L303.30,365.05 L303.80,364.92 L304.30,364.78 L304.80,364.65 L305.30,364.52 L305.80,364.40 L306.30,364.28 L306.80,364.16 L307.30,364.04 L307.80,363.93 L308.30,363.82 L308.80,363.71 L309.30,363.61 L309.80,363.51 L310.30,363.41 L310.80,363.31 L311.30,363.21 L311.80,363.12 L312.30,363.03 L312.80,362.94 L313.30,362.85 L313.80,362.77 L314.30,362.69 L314.80,362.61 L315.30,362.53 L315.80,362.45 L316.30,362.37 L316.80,362.30 L317.30,362.22 L317.80,362.15 L318.30,362.08 L318.80,362.01 L319.30,361.94 L319.80,361.87 L320.30,361.81 L320.80,361.74 L321.30,361.68 L321.80,361.61 L322.30,361.55 L322.80,361.49 L323.30,361.43 L323.80,361.37 L324.30,361.31 L324.80,361.26 L325.30,361.20 L325.80,361.14 L326.30,361.09 L326.80,361.03 L327.30,360.98 L327.80,360.93 L328.30,360.87 L328.80,360.82 L329.30,360.77 L329.80,360.72 L330.30,360.67 L330.80,360.62 L331.30,360.57 L331.80,360.52 L332.30,360.47 L332.80,360.43 L333.30,360.38 L333.80,360.33 L334.30,360.29 L334.80,360.24 L335.30,360.20 L335.80,360.16 L336.30,360.11 L336.80,360.07 L337.30,360.03 L337.80,359.98 L338.30,359.94 L338.80,359.90 L339.30,359.86 L339.80,359.82 L340.30,359.78 L340.80,359.74 L341.30,359.70 L341.80,359.66 L342.30,359.62" fill="none" stroke="#2424c8" stroke-width="1.1"/>
<path d="M96.80,348.40 L97.30,348.39 L97.80,348.37 L98.30,348.36 L98.80,348.35 L99.30,348.34 L99.80,348.32 L100.30,348.31 L100.80,348.30 L101.30,348.28 L101.80,348.27 L102.30,348.26 L102.80,348.25 L103.30,348.23 L103.80,348.22 L104.30,348.21 L104.80,348.19 L105.30,348.18 L105.80,348.16 L106.30,348.15 L106.80,348.14 L107.30,348.12 L107.80,348.11 L108.30,348.10 L108.80,348.08 L109.30,348.07 L109.80,348.05 L110.30,348.04 L110.80,348.02 L111.30,348.01 L111.80,347.99 L112.30,347.98 L112.80,347.96 L113.30,347.95 L113.80,347.93 L114.30,347.92 L114.80,347.90 L115.30,347.89 L115.80,347.87 L116.30,347.86 L116.80,347.84 L117.30,347.83 L117.80,347.81 L118.30,347.79 L118.80,347.78 L119.30,347.76 L119.80,347.75 L120.30,347.73 L120.80,347.71 L121.30,347.70 L121.80,347.68 L122.30,347.66 L122.80,347.64 L123.30,347.63 L123.80,347.61 L124.30,347.59 L124.80,347.58 L125.30,347.56 L125.80,347.54 L126.30,347.52 L126.80,347.50 L127.30,347.49 L127.80,347.47 L128.30,347.45 L128.80,347.43 L129.30,347.41 L129.80,347.39 L130.30,347.37 L130.80,347.35 L131.30,347.33 L131.80,347.32 L132.30,347.30 L132.80,347.28 L133.30,347.26 L133.80,347.24 L134.30,347.22 L134.80,347.20 L135.30,347.18 L135.80,347.15 L136.30,347.13 L136.80,347.11 L137.30,347.09 L137.80,347.07 L138.30,347.05 L138.80,347.03 L139.30,347.01 L139.80,346.98 L140.30,346.96 L140.80,346.94 L141.30,346.92 L141.80,346.89 L142.30,346.87 L142.80,346.85 L143.30,346.82 L143.80,346.80 L144.30,346.78 L144.80,346.75 L145.30,346.73 L145.80,346.71 L146.30,346.68 L146.80,346.66 L147.30,346.63 L147.80,346.61 L148.30,346.58 L148.80,346.56 L149.30,346.53 L149.80,346.50 L150.30,346.48 L150.80,346.45 L151.30,346.42 L151.80,346.40 L152.30,346.37 L152.80,346.34 L153.30,346.32 L153.80,346.29 L154.30,346.26 L154.80,346.23 L155.30,346.20 L155.80,346.17 L156.30,346.15 L156.80,346.12 L157.30,346.09 L157.80,346.06 L158.30,346.03 L158.80,346.00 L159.30,345.97 L159.80,345.93 L160.30,345.90 L160.80,345.87 L161.30,345.84 L161.80,345.81 L162.30,345.77 L162.80,345.74 L163.30,345.71 L163.80,345.68 L164.30,345.64 L164.80,345.61 L165.30,345.57 L165.80,345.54 L166.30,345.50 L166.80,345.47 L167.30,345.43 L167.80,345.40 L168.30,345.36 L168.80,345.32 L169.30,345.28 L169.80,345.25 L170.30,345.21 L170.80,345.17 L171.30,345.13 L171.80,345.09 L172.30,345.05 L172.80,345.01 L173.30,344.97 L173.80,344.93 L174.30,344.89 L174.80,344.85 L175.30,344.81 L175.80,344.76 L176.30,344.72 L176.80,344.68 L177.30,344.63 L177.80,344.59 L178.30,344.54 L178.80,344.50 L179.30,344.45 L179.80,344.40 L180.30,344.36 L180.80,344.31 L181.30,344.26 L181.80,344.21 L182.30,344.16 L182.80,344.11 L183.30,344.06 L183.80,344.01 L184.30,343.96 L184.80,343.91 L185.30,343.85 L185.80,343.80 L186.30,343.75 L186.80,343.69 L187.30,343.63 L187.80,343.58 L188.30,343.52 L188.80,343.46 L189.30,343.40 L189.80,343.34 L190.30,343.28 L190.80,343.22 L191.30,343.16 L191.80,343.10 L192.30,343.03 L192.80,342.97 L193.30,342.90 L193.80,342.83 L194.30,342.77 L194.80,342.70 L195.30,342.63 L195.80,342.55 L196.30,342.48 L196.80,342.41 L197.30,342.33 L197.80,342.25 L198.30,342.18 L198.80,342.10 L199.30,342.01 L199.80,341.93 L200.30,341.85 L200.80,341.76 L201.30,341.67 L201.80,341.58 L202.30,341.49 L202.80,341.39 L203.30,341.29 L203.80,341.19 L204.30,341.09 L204.80,340.99 L205.30,340.88 L205.80,340.77 L206.30,340.65 L206.80,340.54 L207.30,340.42 L207.80,340.30 L208.30,340.17 L208.80,340.04 L209.30,339.91 L209.80,339.77 L210.30,339.63 L210.80,339.49 L211.30,339.34 L211.80,339.19 L212.30,339.04 L212.80,338.88 L213.30,338.72 L213.80,338.55 L214.30,338.38 L214.80,338.20 L215.30,338.03 L215.80,337.84 L216.30,337.66 L216.80,337.47 L217.30,337.27 L217.80,337.08 L218.30,336.88 L218.80,336.67 L219.30,336.46 L219.80,336.25 L220.30,336.04 L220.80,335.82 L221.30,335.60 L221.80,335.38 L222.30,335.16 L222.80,334.93 L223.30,334.70 L223.80,334.47 L224.30,334.24 L224.80,334.01 L225.30,333.78 L225.80,333.54 L226.30,333.31 L226.80,333.07 L227.30,332.83 L227.80,332.60 L228.30,332.36 L228.80,332.12 L229.30,331.89 L229.80,331.65 L230.30,331.42 L230.80,331.18 L231.30,330.95 L231.80,330.71 L232.30,330.48 L232.80,330.24 L233.30,330.01 L233.80,329.77 L234.30,329.54 L234.80,329.30 L235.30,329.07 L235.80,328.83 L236.30,328.59 L236.80,328.36 L237.30,328.12 L237.80,327.87 L238.30,327.63 L238.80,327.38 L239.30,327.13 L239.80,326.88 L240.30,326.62 L240.80,326.36 L241.30,326.09 L241.80,325.82 L242.30,325.55 L242.80,325.27 L243.30,324.98 L243.80,324.68 L244.30,324.38 L244.80,324.08 L245.30,323.76 L245.80,323.44 L246.30,323.10 L246.80,322.76 L247.30,322.41 L247.80,322.06 L248.30,321.69 L248.80,321.31 L249.30,320.92 L249.80,320.52 L250.30,320.11 L250.80,319.69 L251.30,319.26 L251.80,318.82 L252.30,318.37 L252.80,317.90 L253.30,317.43 L253.80,316.94 L254.30,316.44 L254.80,315.93 L255.30,315.41 L255.80,314.87 L256.30,314.33 L256.80,313.77 L257.30,313.20 L257.80,312.62 L258.30,312.03 L258.80,311.42 L259.30,310.81 L259.80,310.15 L260.30,309.47 L260.80,308.77 L261.30,308.07 L261.80,307.36 L262.30,306.63 L262.80,305.89 L263.30,305.14 L263.80,304.38 L264.30,303.61 L264.80,302.82 L265.30,302.03 L265.80,301.22 L266.30,300.40 L266.80,299.57 L267.30,298.73 L267.80,297.88 L268.30,297.02 L268.80,296.15 L269.30,295.27 L269.80,294.37 L270.30,293.47 L270.80,292.56 L271.30,291.64 L271.80,290.71 L272.30,289.77 L272.80,288.83 L273.30,287.87 L273.80,286.91 L274.30,285.94 L274.80,284.96 L275.30,283.98 L275.80,282.99 L276.30,281.99 L276.80,280.99 L277.30,279.99 L277.80,278.98 L278.30,277.96 L278.80,276.94 L279.30,275.92 L279.80,274.89 L280.30,273.86 L280.80,272.83 L281.30,271.80 L281.80,270.76 L282.30,269.73 L282.80,268.69 L283.30,267.65 L283.80,266.61 L284.30,265.57 L284.80,264.53 L285.30,263.49 L285.80,262.45 L286.30,261.40 L286.80,260.36 L287.30,259.32 L287.80,258.28 L288.30,257.25 L288.80,256.21 L289.30,255.17 L289.80,254.13 L290.30,253.09 L290.80,252.06 L291.30,251.02 L291.80,249.99 L292.30,248.95 L292.80,247.91 L293.30,246.88 L293.80,245.84 L294.30,244.80 L294.80,243.77 L295.30,242.73 L295.80,241.69" fill="none" stroke="#2f8a2f" stroke-width="1.1"/>
<path d="M223.80,462.84 L224.30,461.75 L224.80,460.66 L225.30,459.58 L225.80,458.49 L226.30,457.41 L226.80,456.33 L227.30,455.24 L227.80,454.16 L228.30,453.08 L228.80,452.00 L229.30,450.92 L229.80,449.84 L230.30,448.76 L230.80,447.68 L231.30,446.60 L231.80,445.53 L232.30,444.45 L232.80,443.37 L233.30,442.29 L233.80,441.21 L234.30,440.14 L234.80,439.06 L235.30,437.98 L235.80,436.91 L236.30,435.84 L236.80,434.77 L237.30,433.70 L237.80,432.63 L238.30,431.57 L238.80,430.51 L239.30,429.45 L239.80,428.40 L240.30,427.35 L240.80,426.30 L241.30,425.26 L241.80,424.23 L242.30,423.20 L242.80,422.18 L243.30,421.16 L243.80,420.15 L244.30,419.15 L244.80,418.16 L245.30,417.17 L245.80,416.19 L246.30,415.22 L246.80,414.26 L247.30,413.31 L247.80,412.37 L248.30,411.44 L248.80,410.52 L249.30,409.61 L249.80,408.71 L250.30,407.82 L250.80,406.95 L251.30,406.08 L251.80,405.23 L252.30,404.38 L252.80,403.55 L253.30,402.73 L253.80,401.93 L254.30,401.13 L254.80,400.35 L255.30,399.58 L255.80,398.82 L256.30,398.07 L256.80,397.34 L257.30,396.62 L257.80,395.91 L258.30,395.21 L258.80,394.52 L259.30,393.85 L259.80,393.22 L260.30,392.61 L260.80,392.02 L261.30,391.43 L261.80,390.86 L262.30,390.30 L262.80,389.75 L263.30,389.21 L263.80,388.69 L264.30,388.18 L264.80,387.68 L265.30,387.19 L265.80,386.71 L266.30,386.25 L266.80,385.79 L267.30,385.35 L267.80,384.92 L268.30,384.50 L268.80,384.09 L269.30,383.69 L269.80,383.30 L270.30,382.92 L270.80,382.55 L271.30,382.19 L271.80,381.85 L272.30,381.51 L272.80,381.17 L273.30,380.85 L273.80,380.54 L274.30,380.23 L274.80,379.93 L275.30,379.64 L275.80,379.35 L276.30,379.07 L276.80,378.80 L277.30,378.53 L277.80,378.26 L278.30,378.01 L278.80,377.75 L279.30,377.50 L279.80,377.26 L280.30,377.01 L280.80,376.77 L281.30,376.53 L281.80,376.30 L282.30,376.07 L282.80,375.83 L283.30,375.60 L283.80,375.37 L284.30,375.15 L284.80,374.92 L285.30,374.69 L285.80,374.47 L286.30,374.24 L286.80,374.01 L287.30,373.79 L287.80,373.56 L288.30,373.33 L288.80,373.11 L289.30,372.88 L289.80,372.65 L290.30,372.43 L290.80,372.20 L291.30,371.97 L291.80,371.75 L292.30,371.52 L292.80,371.30 L293.30,371.07 L293.80,370.84 L294.30,370.62 L294.80,370.40 L295.30,370.18 L295.80,369.96 L296.30,369.74 L296.80,369.52 L297.30,369.30 L297.80,369.09 L298.30,368.88 L298.80,368.67 L299.30,368.46 L299.80,368.26 L300.30,368.06 L300.80,367.86 L301.30,367.66 L301.80,367.47 L302.30,367.28 L302.80,367.09 L303.30,366.91 L303.80,366.73 L304.30,366.56 L304.80,366.38 L305.30,366.22 L305.80,366.05 L306.30,365.89 L306.80,365.73 L307.30,365.58 L307.80,365.43 L308.30,365.28 L308.80,365.14 L309.30,365.00 L309.80,364.86 L310.30,364.73 L310.80,364.60 L311.30,364.47 L311.80,364.35 L312.30,364.23 L312.80,364.11 L313.30,364.00 L313.80,363.89 L314.30,363.78 L314.80,363.67 L315.30,363.57 L315.80,363.47 L316.30,363.37 L316.80,363.27 L317.30,363.18 L317.80,363.08 L318.30,362.99 L318.80,362.91 L319.30,362.82 L319.80,362.74 L320.30,362.65 L320.80,362.57 L321.30,362.49 L321.80,362.42 L322.30,362.34 L322.80,362.27 L323.30,362.19 L323.80,362.12 L324.30,362.05 L324.80,361.98 L325.30,361.91 L325.80,361.85 L326.30,361.78 L326.80,361.72 L327.30,361.65 L327.80,361.59 L328.30,361.53 L328.80,361.47 L329.30,361.41 L329.80,361.35 L330.30,361.29 L330.80,361.23 L331.30,361.18 L331.80,361.12 L332.30,361.07 L332.80,361.01 L333.30,360.96 L333.80,360.90 L334.30,360.85 L334.80,360.80 L335.30,360.75 L335.80,360.70 L336.30,360.65 L336.80,360.60 L337.30,360.55 L337.80,360.50 L338.30,360.46 L338.80,360.41 L339.30,360.36 L339.80,360.32 L340.30,360.27 L340.80,360.23 L341.30,360.18 L341.80,360.14 L342.30,360.09" fill="none" stroke="#2f8a2f" stroke-width="1.1"/>
<line x1="241.8" y1="312.9" x2="241.8" y2="389.4" stroke="#e0262a" stroke-width="1.05"/>
<path d="M241.8,309.9 l-2.6,4.5 h5.2z M241.8,392.4 l-2.6,-4.5 h5.2z" fill="#e0262a"/>
<line x1="247.5" y1="312.9" x2="247.5" y2="389.4" stroke="#111111" stroke-width="1.05"/>
<path d="M247.5,309.9 l-2.6,4.5 h5.2z M247.5,392.4 l-2.6,-4.5 h5.2z" fill="#111111"/>
<line x1="253.6" y1="312.9" x2="253.6" y2="389.4" stroke="#2424c8" stroke-width="1.05"/>
<path d="M253.6,309.9 l-2.6,4.5 h5.2z M253.6,392.4 l-2.6,-4.5 h5.2z" fill="#2424c8"/>
<line x1="259.4" y1="312.9" x2="259.4" y2="389.4" stroke="#3b6e22" stroke-width="1.05"/>
<path d="M259.4,309.9 l-2.6,4.5 h5.2z M259.4,392.4 l-2.6,-4.5 h5.2z" fill="#3b6e22"/>
</g>
<rect x="96.8" y="261.0" width="245.59999999999997" height="182.8" fill="none" stroke="#111" stroke-width="1.2"/>
<line x1="96.8" y1="420.95" x2="99.3" y2="420.95" stroke="#111" stroke-width="1"/>
<line x1="342.4" y1="420.95" x2="339.9" y2="420.95" stroke="#111" stroke-width="1"/>
<line x1="96.8" y1="398.10" x2="100.8" y2="398.10" stroke="#111" stroke-width="1"/>
<line x1="342.4" y1="398.10" x2="338.4" y2="398.10" stroke="#111" stroke-width="1"/>
<line x1="96.8" y1="375.25" x2="99.3" y2="375.25" stroke="#111" stroke-width="1"/>
<line x1="342.4" y1="375.25" x2="339.9" y2="375.25" stroke="#111" stroke-width="1"/>
<line x1="96.8" y1="352.40" x2="100.8" y2="352.40" stroke="#111" stroke-width="1"/>
<line x1="342.4" y1="352.40" x2="338.4" y2="352.40" stroke="#111" stroke-width="1"/>
<line x1="96.8" y1="329.55" x2="99.3" y2="329.55" stroke="#111" stroke-width="1"/>
<line x1="342.4" y1="329.55" x2="339.9" y2="329.55" stroke="#111" stroke-width="1"/>
<line x1="96.8" y1="306.70" x2="100.8" y2="306.70" stroke="#111" stroke-width="1"/>
<line x1="342.4" y1="306.70" x2="338.4" y2="306.70" stroke="#111" stroke-width="1"/>
<line x1="96.8" y1="283.85" x2="99.3" y2="283.85" stroke="#111" stroke-width="1"/>
<line x1="342.4" y1="283.85" x2="339.9" y2="283.85" stroke="#111" stroke-width="1"/>
<line x1="127.50" y1="443.8" x2="127.50" y2="441.3" stroke="#111" stroke-width="1"/>
<line x1="127.50" y1="261.0" x2="127.50" y2="263.5" stroke="#111" stroke-width="1"/>
<line x1="158.20" y1="443.8" x2="158.20" y2="439.8" stroke="#111" stroke-width="1"/>
<line x1="158.20" y1="261.0" x2="158.20" y2="265.0" stroke="#111" stroke-width="1"/>
<line x1="188.90" y1="443.8" x2="188.90" y2="441.3" stroke="#111" stroke-width="1"/>
<line x1="188.90" y1="261.0" x2="188.90" y2="263.5" stroke="#111" stroke-width="1"/>
<line x1="219.60" y1="443.8" x2="219.60" y2="439.8" stroke="#111" stroke-width="1"/>
<line x1="219.60" y1="261.0" x2="219.60" y2="265.0" stroke="#111" stroke-width="1"/>
<line x1="250.30" y1="443.8" x2="250.30" y2="441.3" stroke="#111" stroke-width="1"/>
<line x1="250.30" y1="261.0" x2="250.30" y2="263.5" stroke="#111" stroke-width="1"/>
<line x1="281.00" y1="443.8" x2="281.00" y2="439.8" stroke="#111" stroke-width="1"/>
<line x1="281.00" y1="261.0" x2="281.00" y2="265.0" stroke="#111" stroke-width="1"/>
<line x1="311.70" y1="443.8" x2="311.70" y2="441.3" stroke="#111" stroke-width="1"/>
<line x1="311.70" y1="261.0" x2="311.70" y2="263.5" stroke="#111" stroke-width="1"/>
<clipPath id="clip90"><rect x="96.8" y="457.3" width="245.59999999999997" height="182.99999999999994"/></clipPath>
<g clip-path="url(#clip90)">
<line x1="241.5" y1="457.3" x2="241.5" y2="640.3" stroke="#a0a0a0" stroke-width="1"/>
<line x1="227.3" y1="457.3" x2="227.3" y2="640.3" stroke="#a0a0a0" stroke-width="1"/>
<line x1="213.9" y1="457.3" x2="213.9" y2="640.3" stroke="#a0a0a0" stroke-width="1"/>
<line x1="201.3" y1="457.3" x2="201.3" y2="640.3" stroke="#a0a0a0" stroke-width="1"/>
<line x1="96.8" y1="548.6" x2="342.4" y2="548.6" stroke="#863a30" stroke-width="1" stroke-dasharray="1.9 0.6"/>
<path d="M204.23,646.30 L204.98,644.30 L205.73,642.30 L206.48,640.30 L207.23,638.30 L207.98,636.30 L208.73,634.30 L209.49,632.30 L210.24,630.30 L211.00,628.30 L211.75,626.30 L212.51,624.30 L213.27,622.30 L214.02,620.30 L214.78,618.30 L215.54,616.30 L216.30,614.30 L217.06,612.30 L217.83,610.30 L218.59,608.30 L219.35,606.30 L220.12,604.30 L220.88,602.30 L221.65,600.30 L222.42,598.30 L223.18,596.30 L223.95,594.30 L224.72,592.30 L225.49,590.30 L226.26,588.30 L227.03,586.30 L227.81,584.30 L228.58,582.30 L229.35,580.30 L230.13,578.30 L230.91,576.30 L231.68,574.30 L232.46,572.30 L233.24,570.30 L234.02,568.30 L234.80,566.30 L235.58,564.30 L236.36,562.30 L237.14,560.30 L237.93,558.30 L238.71,556.30 L239.49,554.30 L240.28,552.30 L241.07,550.30 L241.85,548.30 L242.64,546.30 L243.43,544.30 L244.22,542.30 L245.01,540.30 L245.80,538.30 L246.60,536.30 L247.39,534.30 L248.18,532.30 L248.98,530.30 L249.77,528.30 L250.57,526.30 L251.37,524.30 L252.16,522.30 L252.96,520.30 L253.76,518.30 L254.56,516.30 L255.36,514.30 L256.17,512.30 L256.97,510.30 L257.77,508.30 L258.58,506.30 L259.38,504.30 L260.19,502.30 L261.00,500.30 L261.80,498.30 L262.61,496.30 L263.42,494.30 L264.23,492.30 L265.04,490.30 L265.85,488.30 L266.67,486.30 L267.48,484.30 L268.30,482.30 L269.11,480.30 L269.93,478.30 L270.74,476.30 L271.56,474.30 L272.38,472.30 L273.20,470.30 L274.02,468.30 L274.84,466.30 L275.66,464.30 L276.48,462.30 L277.31,460.30 L278.13,458.30 L278.96,456.30 L279.78,454.30 L280.61,452.30" fill="none" stroke="#e0262a" stroke-width="1" stroke-dasharray="4.1 4.43" stroke-dashoffset="2.64"/>
<path d="M190.03,646.30 L190.78,644.30 L191.53,642.30 L192.28,640.30 L193.03,638.30 L193.78,636.30 L194.53,634.30 L195.29,632.30 L196.04,630.30 L196.80,628.30 L197.55,626.30 L198.31,624.30 L199.07,622.30 L199.82,620.30 L200.58,618.30 L201.34,616.30 L202.10,614.30 L202.86,612.30 L203.63,610.30 L204.39,608.30 L205.15,606.30 L205.92,604.30 L206.68,602.30 L207.45,600.30 L208.22,598.30 L208.98,596.30 L209.75,594.30 L210.52,592.30 L211.29,590.30 L212.06,588.30 L212.83,586.30 L213.61,584.30 L214.38,582.30 L215.15,580.30 L215.93,578.30 L216.71,576.30 L217.48,574.30 L218.26,572.30 L219.04,570.30 L219.82,568.30 L220.60,566.30 L221.38,564.30 L222.16,562.30 L222.94,560.30 L223.73,558.30 L224.51,556.30 L225.29,554.30 L226.08,552.30 L226.87,550.30 L227.65,548.30 L228.44,546.30 L229.23,544.30 L230.02,542.30 L230.81,540.30 L231.60,538.30 L232.40,536.30 L233.19,534.30 L233.98,532.30 L234.78,530.30 L235.57,528.30 L236.37,526.30 L237.17,524.30 L237.96,522.30 L238.76,520.30 L239.56,518.30 L240.36,516.30 L241.16,514.30 L241.97,512.30 L242.77,510.30 L243.57,508.30 L244.38,506.30 L245.18,504.30 L245.99,502.30 L246.80,500.30 L247.60,498.30 L248.41,496.30 L249.22,494.30 L250.03,492.30 L250.84,490.30 L251.65,488.30 L252.47,486.30 L253.28,484.30 L254.10,482.30 L254.91,480.30 L255.73,478.30 L256.54,476.30 L257.36,474.30 L258.18,472.30 L259.00,470.30 L259.82,468.30 L260.64,466.30 L261.46,464.30 L262.28,462.30 L263.11,460.30 L263.93,458.30 L264.76,456.30 L265.58,454.30 L266.41,452.30" fill="none" stroke="#111111" stroke-width="1" stroke-dasharray="4.1 4.43" stroke-dashoffset="3.75"/>
<path d="M176.63,646.30 L177.38,644.30 L178.13,642.30 L178.88,640.30 L179.63,638.30 L180.38,636.30 L181.13,634.30 L181.89,632.30 L182.64,630.30 L183.40,628.30 L184.15,626.30 L184.91,624.30 L185.67,622.30 L186.42,620.30 L187.18,618.30 L187.94,616.30 L188.70,614.30 L189.46,612.30 L190.23,610.30 L190.99,608.30 L191.75,606.30 L192.52,604.30 L193.28,602.30 L194.05,600.30 L194.82,598.30 L195.58,596.30 L196.35,594.30 L197.12,592.30 L197.89,590.30 L198.66,588.30 L199.43,586.30 L200.21,584.30 L200.98,582.30 L201.75,580.30 L202.53,578.30 L203.31,576.30 L204.08,574.30 L204.86,572.30 L205.64,570.30 L206.42,568.30 L207.20,566.30 L207.98,564.30 L208.76,562.30 L209.54,560.30 L210.33,558.30 L211.11,556.30 L211.89,554.30 L212.68,552.30 L213.47,550.30 L214.25,548.30 L215.04,546.30 L215.83,544.30 L216.62,542.30 L217.41,540.30 L218.20,538.30 L219.00,536.30 L219.79,534.30 L220.58,532.30 L221.38,530.30 L222.17,528.30 L222.97,526.30 L223.77,524.30 L224.56,522.30 L225.36,520.30 L226.16,518.30 L226.96,516.30 L227.76,514.30 L228.57,512.30 L229.37,510.30 L230.17,508.30 L230.98,506.30 L231.78,504.30 L232.59,502.30 L233.40,500.30 L234.20,498.30 L235.01,496.30 L235.82,494.30 L236.63,492.30 L237.44,490.30 L238.25,488.30 L239.07,486.30 L239.88,484.30 L240.70,482.30 L241.51,480.30 L242.33,478.30 L243.14,476.30 L243.96,474.30 L244.78,472.30 L245.60,470.30 L246.42,468.30 L247.24,466.30 L248.06,464.30 L248.88,462.30 L249.71,460.30 L250.53,458.30 L251.36,456.30 L252.18,454.30 L253.01,452.30" fill="none" stroke="#2424c8" stroke-width="1" stroke-dasharray="4.1 4.43" stroke-dashoffset="2.02"/>
<path d="M164.03,646.30 L164.78,644.30 L165.53,642.30 L166.28,640.30 L167.03,638.30 L167.78,636.30 L168.53,634.30 L169.29,632.30 L170.04,630.30 L170.80,628.30 L171.55,626.30 L172.31,624.30 L173.07,622.30 L173.82,620.30 L174.58,618.30 L175.34,616.30 L176.10,614.30 L176.86,612.30 L177.63,610.30 L178.39,608.30 L179.15,606.30 L179.92,604.30 L180.68,602.30 L181.45,600.30 L182.22,598.30 L182.98,596.30 L183.75,594.30 L184.52,592.30 L185.29,590.30 L186.06,588.30 L186.83,586.30 L187.61,584.30 L188.38,582.30 L189.15,580.30 L189.93,578.30 L190.71,576.30 L191.48,574.30 L192.26,572.30 L193.04,570.30 L193.82,568.30 L194.60,566.30 L195.38,564.30 L196.16,562.30 L196.94,560.30 L197.73,558.30 L198.51,556.30 L199.29,554.30 L200.08,552.30 L200.87,550.30 L201.65,548.30 L202.44,546.30 L203.23,544.30 L204.02,542.30 L204.81,540.30 L205.60,538.30 L206.40,536.30 L207.19,534.30 L207.98,532.30 L208.78,530.30 L209.57,528.30 L210.37,526.30 L211.17,524.30 L211.96,522.30 L212.76,520.30 L213.56,518.30 L214.36,516.30 L215.16,514.30 L215.97,512.30 L216.77,510.30 L217.57,508.30 L218.38,506.30 L219.18,504.30 L219.99,502.30 L220.80,500.30 L221.60,498.30 L222.41,496.30 L223.22,494.30 L224.03,492.30 L224.84,490.30 L225.65,488.30 L226.47,486.30 L227.28,484.30 L228.10,482.30 L228.91,480.30 L229.73,478.30 L230.54,476.30 L231.36,474.30 L232.18,472.30 L233.00,470.30 L233.82,468.30 L234.64,466.30 L235.46,464.30 L236.28,462.30 L237.11,460.30 L237.93,458.30 L238.76,456.30 L239.58,454.30 L240.41,452.30" fill="none" stroke="#2f8a2f" stroke-width="1" stroke-dasharray="4.1 4.43" stroke-dashoffset="5.64"/>
<path d="M96.80,547.53 L97.30,547.53 L97.80,547.52 L98.30,547.51 L98.80,547.51 L99.30,547.50 L99.80,547.49 L100.30,547.49 L100.80,547.48 L101.30,547.47 L101.80,547.46 L102.30,547.46 L102.80,547.45 L103.30,547.44 L103.80,547.44 L104.30,547.43 L104.80,547.42 L105.30,547.41 L105.80,547.41 L106.30,547.40 L106.80,547.39 L107.30,547.39 L107.80,547.38 L108.30,547.37 L108.80,547.36 L109.30,547.35 L109.80,547.35 L110.30,547.34 L110.80,547.33 L111.30,547.32 L111.80,547.32 L112.30,547.31 L112.80,547.30 L113.30,547.29 L113.80,547.28 L114.30,547.27 L114.80,547.27 L115.30,547.26 L115.80,547.25 L116.30,547.24 L116.80,547.23 L117.30,547.22 L117.80,547.21 L118.30,547.21 L118.80,547.20 L119.30,547.19 L119.80,547.18 L120.30,547.17 L120.80,547.16 L121.30,547.15 L121.80,547.14 L122.30,547.13 L122.80,547.12 L123.30,547.11 L123.80,547.10 L124.30,547.09 L124.80,547.08 L125.30,547.07 L125.80,547.06 L126.30,547.05 L126.80,547.04 L127.30,547.03 L127.80,547.02 L128.30,547.01 L128.80,547.00 L129.30,546.99 L129.80,546.98 L130.30,546.97 L130.80,546.96 L131.30,546.95 L131.80,546.94 L132.30,546.93 L132.80,546.92 L133.30,546.90 L133.80,546.89 L134.30,546.88 L134.80,546.87 L135.30,546.86 L135.80,546.85 L136.30,546.83 L136.80,546.82 L137.30,546.81 L137.80,546.80 L138.30,546.78 L138.80,546.77 L139.30,546.76 L139.80,546.75 L140.30,546.73 L140.80,546.72 L141.30,546.71 L141.80,546.69 L142.30,546.68 L142.80,546.67 L143.30,546.65 L143.80,546.64 L144.30,546.63 L144.80,546.61 L145.30,546.60 L145.80,546.58 L146.30,546.57 L146.80,546.55 L147.30,546.54 L147.80,546.52 L148.30,546.51 L148.80,546.49 L149.30,546.48 L149.80,546.46 L150.30,546.45 L150.80,546.43 L151.30,546.41 L151.80,546.40 L152.30,546.38 L152.80,546.37 L153.30,546.35 L153.80,546.33 L154.30,546.31 L154.80,546.30 L155.30,546.28 L155.80,546.26 L156.30,546.24 L156.80,546.23 L157.30,546.21 L157.80,546.19 L158.30,546.17 L158.80,546.15 L159.30,546.13 L159.80,546.11 L160.30,546.09 L160.80,546.07 L161.30,546.05 L161.80,546.03 L162.30,546.01 L162.80,545.99 L163.30,545.97 L163.80,545.95 L164.30,545.93 L164.80,545.90 L165.30,545.88 L165.80,545.86 L166.30,545.84 L166.80,545.81 L167.30,545.79 L167.80,545.77 L168.30,545.74 L168.80,545.72 L169.30,545.69 L169.80,545.67 L170.30,545.64 L170.80,545.62 L171.30,545.59 L171.80,545.57 L172.30,545.54 L172.80,545.51 L173.30,545.49 L173.80,545.46 L174.30,545.43 L174.80,545.40 L175.30,545.37 L175.80,545.34 L176.30,545.31 L176.80,545.28 L177.30,545.25 L177.80,545.22 L178.30,545.19 L178.80,545.16 L179.30,545.13 L179.80,545.09 L180.30,545.06 L180.80,545.03 L181.30,544.99 L181.80,544.96 L182.30,544.92 L182.80,544.88 L183.30,544.85 L183.80,544.81 L184.30,544.77 L184.80,544.73 L185.30,544.70 L185.80,544.66 L186.30,544.62 L186.80,544.57 L187.30,544.53 L187.80,544.49 L188.30,544.45 L188.80,544.40 L189.30,544.36 L189.80,544.31 L190.30,544.27 L190.80,544.22 L191.30,544.17 L191.80,544.12 L192.30,544.07 L192.80,544.02 L193.30,543.97 L193.80,543.92 L194.30,543.87 L194.80,543.81 L195.30,543.76 L195.80,543.70 L196.30,543.64 L196.80,543.58 L197.30,543.52 L197.80,543.46 L198.30,543.40 L198.80,543.34 L199.30,543.27 L199.80,543.21 L200.30,543.14 L200.80,543.07 L201.30,543.00 L201.80,542.93 L202.30,542.86 L202.80,542.78 L203.30,542.71 L203.80,542.63 L204.30,542.55 L204.80,542.47 L205.30,542.38 L205.80,542.30 L206.30,542.21 L206.80,542.12 L207.30,542.03 L207.80,541.94 L208.30,541.84 L208.80,541.74 L209.30,541.64 L209.80,541.54 L210.30,541.43 L210.80,541.32 L211.30,541.21 L211.80,541.10 L212.30,540.98 L212.80,540.86 L213.30,540.74 L213.80,540.62 L214.30,540.49 L214.80,540.35 L215.30,540.22 L215.80,540.08 L216.30,539.93 L216.80,539.79 L217.30,539.64 L217.80,539.48 L218.30,539.32 L218.80,539.15 L219.30,538.98 L219.80,538.81 L220.30,538.63 L220.80,538.45 L221.30,538.25 L221.80,538.06 L222.30,537.86 L222.80,537.65 L223.30,537.43 L223.80,537.21 L224.30,536.98 L224.80,536.75 L225.30,536.51 L225.80,536.26 L226.30,536.00 L226.80,535.73 L227.30,535.46 L227.80,535.18 L228.30,534.89 L228.80,534.58 L229.30,534.27 L229.80,533.95 L230.30,533.62 L230.80,533.28 L231.30,532.93 L231.80,532.57 L232.30,532.19 L232.80,531.81 L233.30,531.41 L233.80,531.00 L234.30,530.58 L234.80,530.14 L235.30,529.69 L235.80,529.23 L236.30,528.75 L236.80,528.26 L237.30,527.76 L237.80,527.24 L238.30,526.71 L238.80,526.16 L239.30,525.60 L239.80,525.02 L240.30,524.43 L240.80,523.82 L241.30,523.20 L241.80,522.57 L242.30,521.91 L242.80,521.25 L243.30,520.57 L243.80,519.87 L244.30,519.16 L244.80,518.44 L245.30,517.70 L245.80,516.95 L246.30,516.18 L246.80,515.40 L247.30,514.61 L247.80,513.80 L248.30,512.98 L248.80,512.15 L249.30,511.31 L249.80,510.45 L250.30,509.58 L250.80,508.70 L251.30,507.82 L251.80,506.92 L252.30,506.01 L252.80,505.09 L253.30,504.16 L253.80,503.22 L254.30,502.27 L254.80,501.32 L255.30,500.35 L255.80,499.38 L256.30,498.40 L256.80,497.42 L257.30,496.42 L257.80,495.42 L258.30,494.41 L258.80,493.40 L259.30,492.38 L259.80,491.35 L260.30,490.32 L260.80,489.28 L261.30,488.24 L261.80,487.20 L262.30,486.14 L262.80,485.09 L263.30,484.03 L263.80,482.96 L264.30,481.89 L264.80,480.82 L265.30,479.75 L265.80,478.67 L266.30,477.58 L266.80,476.50 L267.30,475.41 L267.80,474.31 L268.30,473.22 L268.80,472.12 L269.30,471.02 L269.80,469.92 L270.30,468.81 L270.80,467.70 L271.30,466.60 L271.80,465.48 L272.30,464.37 L272.80,463.25 L273.30,462.14 L273.80,461.02 L274.30,459.90 L274.80,458.77 L275.30,457.65 L275.80,456.52 L276.30,455.40 L276.80,454.27 L277.30,453.14 L277.80,452.01 L278.30,450.88 L278.80,449.75 L279.30,448.61 L279.80,447.48 L280.30,446.34 L280.80,445.21 L281.30,444.07 L281.80,442.93 L282.30,441.79 L282.80,440.66 L283.30,439.52 L283.80,438.38" fill="none" stroke="#e0262a" stroke-width="1.1"/>
<path d="M201.80,659.09 L202.30,657.82 L202.80,656.56 L203.30,655.29 L203.80,654.03 L204.30,652.77 L204.80,651.52 L205.30,650.27 L205.80,649.02 L206.30,647.77 L206.80,646.53 L207.30,645.29 L207.80,644.05 L208.30,642.82 L208.80,641.59 L209.30,640.36 L209.80,639.13 L210.30,637.91 L210.80,636.70 L211.30,635.48 L211.80,634.27 L212.30,633.07 L212.80,631.87 L213.30,630.67 L213.80,629.47 L214.30,628.28 L214.80,627.10 L215.30,625.92 L215.80,624.74 L216.30,623.57 L216.80,622.41 L217.30,621.24 L217.80,620.09 L218.30,618.94 L218.80,617.79 L219.30,616.65 L219.80,615.52 L220.30,614.39 L220.80,613.27 L221.30,612.15 L221.80,611.05 L222.30,609.94 L222.80,608.85 L223.30,607.76 L223.80,606.68 L224.30,605.61 L224.80,604.55 L225.30,603.49 L225.80,602.44 L226.30,601.40 L226.80,600.37 L227.30,599.35 L227.80,598.34 L228.30,597.34 L228.80,596.35 L229.30,595.37 L229.80,594.40 L230.30,593.44 L230.80,592.49 L231.30,591.55 L231.80,590.63 L232.30,589.72 L232.80,588.82 L233.30,587.93 L233.80,587.06 L234.30,586.20 L234.80,585.35 L235.30,584.52 L235.80,583.70 L236.30,582.90 L236.80,582.11 L237.30,581.34 L237.80,580.58 L238.30,579.84 L238.80,579.11 L239.30,578.40 L239.80,577.70 L240.30,577.02 L240.80,576.35 L241.30,575.71 L241.80,575.07 L242.30,574.45 L242.80,573.85 L243.30,573.27 L243.80,572.69 L244.30,572.14 L244.80,571.60 L245.30,571.07 L245.80,570.56 L246.30,570.07 L246.80,569.59 L247.30,569.12 L247.80,568.66 L248.30,568.22 L248.80,567.80 L249.30,567.38 L249.80,566.98 L250.30,566.59 L250.80,566.22 L251.30,565.85 L251.80,565.50 L252.30,565.15 L252.80,564.82 L253.30,564.50 L253.80,564.19 L254.30,563.88 L254.80,563.59 L255.30,563.31 L255.80,563.03 L256.30,562.76 L256.80,562.51 L257.30,562.26 L257.80,562.01 L258.30,561.78 L258.80,561.55 L259.30,561.33 L259.80,561.11 L260.30,560.90 L260.80,560.70 L261.30,560.50 L261.80,560.31 L262.30,560.13 L262.80,559.95 L263.30,559.77 L263.80,559.60 L264.30,559.44 L264.80,559.28 L265.30,559.12 L265.80,558.97 L266.30,558.82 L266.80,558.68 L267.30,558.54 L267.80,558.40 L268.30,558.27 L268.80,558.14 L269.30,558.01 L269.80,557.89 L270.30,557.77 L270.80,557.66 L271.30,557.54 L271.80,557.43 L272.30,557.32 L272.80,557.22 L273.30,557.11 L273.80,557.01 L274.30,556.92 L274.80,556.82 L275.30,556.73 L275.80,556.64 L276.30,556.55 L276.80,556.46 L277.30,556.37 L277.80,556.29 L278.30,556.21 L278.80,556.13 L279.30,556.05 L279.80,555.97 L280.30,555.90 L280.80,555.83 L281.30,555.75 L281.80,555.68 L282.30,555.62 L282.80,555.55 L283.30,555.48 L283.80,555.42 L284.30,555.35 L284.80,555.29 L285.30,555.23 L285.80,555.17 L286.30,555.11 L286.80,555.06 L287.30,555.00 L287.80,554.94 L288.30,554.89 L288.80,554.84 L289.30,554.78 L289.80,554.73 L290.30,554.68 L290.80,554.63 L291.30,554.58 L291.80,554.54 L292.30,554.49 L292.80,554.44 L293.30,554.40 L293.80,554.35 L294.30,554.31 L294.80,554.27 L295.30,554.22 L295.80,554.18 L296.30,554.14 L296.80,554.10 L297.30,554.06 L297.80,554.02 L298.30,553.98 L298.80,553.95 L299.30,553.91 L299.80,553.87 L300.30,553.84 L300.80,553.80 L301.30,553.77 L301.80,553.73 L302.30,553.70 L302.80,553.66 L303.30,553.63 L303.80,553.60 L304.30,553.57 L304.80,553.54 L305.30,553.50 L305.80,553.47 L306.30,553.44 L306.80,553.41 L307.30,553.39 L307.80,553.36 L308.30,553.33 L308.80,553.30 L309.30,553.27 L309.80,553.24 L310.30,553.22 L310.80,553.19 L311.30,553.17 L311.80,553.14 L312.30,553.11 L312.80,553.09 L313.30,553.06 L313.80,553.04 L314.30,553.01 L314.80,552.99 L315.30,552.97 L315.80,552.94 L316.30,552.92 L316.80,552.90 L317.30,552.88 L317.80,552.85 L318.30,552.83 L318.80,552.81 L319.30,552.79 L319.80,552.77 L320.30,552.75 L320.80,552.73 L321.30,552.71 L321.80,552.69 L322.30,552.67 L322.80,552.65 L323.30,552.63 L323.80,552.61 L324.30,552.59 L324.80,552.57 L325.30,552.55 L325.80,552.53 L326.30,552.51 L326.80,552.50 L327.30,552.48 L327.80,552.46 L328.30,552.44 L328.80,552.43 L329.30,552.41 L329.80,552.39 L330.30,552.38 L330.80,552.36 L331.30,552.34 L331.80,552.33 L332.30,552.31 L332.80,552.30 L333.30,552.28 L333.80,552.27 L334.30,552.25 L334.80,552.24 L335.30,552.22 L335.80,552.21 L336.30,552.19 L336.80,552.18 L337.30,552.16 L337.80,552.15 L338.30,552.13 L338.80,552.12 L339.30,552.11 L339.80,552.09 L340.30,552.08 L340.80,552.07 L341.30,552.05 L341.80,552.04 L342.30,552.03" fill="none" stroke="#e0262a" stroke-width="1.1"/>
<path d="M96.80,547.33 L97.30,547.32 L97.80,547.31 L98.30,547.30 L98.80,547.30 L99.30,547.29 L99.80,547.28 L100.30,547.27 L100.80,547.26 L101.30,547.25 L101.80,547.25 L102.30,547.24 L102.80,547.23 L103.30,547.22 L103.80,547.21 L104.30,547.20 L104.80,547.19 L105.30,547.18 L105.80,547.18 L106.30,547.17 L106.80,547.16 L107.30,547.15 L107.80,547.14 L108.30,547.13 L108.80,547.12 L109.30,547.11 L109.80,547.10 L110.30,547.09 L110.80,547.08 L111.30,547.07 L111.80,547.06 L112.30,547.05 L112.80,547.04 L113.30,547.03 L113.80,547.02 L114.30,547.01 L114.80,547.00 L115.30,546.99 L115.80,546.98 L116.30,546.97 L116.80,546.96 L117.30,546.94 L117.80,546.93 L118.30,546.92 L118.80,546.91 L119.30,546.90 L119.80,546.89 L120.30,546.88 L120.80,546.86 L121.30,546.85 L121.80,546.84 L122.30,546.83 L122.80,546.82 L123.30,546.80 L123.80,546.79 L124.30,546.78 L124.80,546.77 L125.30,546.75 L125.80,546.74 L126.30,546.73 L126.80,546.72 L127.30,546.70 L127.80,546.69 L128.30,546.68 L128.80,546.66 L129.30,546.65 L129.80,546.63 L130.30,546.62 L130.80,546.61 L131.30,546.59 L131.80,546.58 L132.30,546.56 L132.80,546.55 L133.30,546.53 L133.80,546.52 L134.30,546.50 L134.80,546.49 L135.30,546.47 L135.80,546.46 L136.30,546.44 L136.80,546.42 L137.30,546.41 L137.80,546.39 L138.30,546.38 L138.80,546.36 L139.30,546.34 L139.80,546.32 L140.30,546.31 L140.80,546.29 L141.30,546.27 L141.80,546.25 L142.30,546.24 L142.80,546.22 L143.30,546.20 L143.80,546.18 L144.30,546.16 L144.80,546.14 L145.30,546.12 L145.80,546.10 L146.30,546.08 L146.80,546.06 L147.30,546.04 L147.80,546.02 L148.30,546.00 L148.80,545.98 L149.30,545.96 L149.80,545.94 L150.30,545.92 L150.80,545.90 L151.30,545.87 L151.80,545.85 L152.30,545.83 L152.80,545.80 L153.30,545.78 L153.80,545.76 L154.30,545.73 L154.80,545.71 L155.30,545.68 L155.80,545.66 L156.30,545.63 L156.80,545.61 L157.30,545.58 L157.80,545.56 L158.30,545.53 L158.80,545.50 L159.30,545.47 L159.80,545.45 L160.30,545.42 L160.80,545.39 L161.30,545.36 L161.80,545.33 L162.30,545.30 L162.80,545.27 L163.30,545.24 L163.80,545.21 L164.30,545.18 L164.80,545.15 L165.30,545.11 L165.80,545.08 L166.30,545.05 L166.80,545.01 L167.30,544.98 L167.80,544.94 L168.30,544.91 L168.80,544.87 L169.30,544.83 L169.80,544.80 L170.30,544.76 L170.80,544.72 L171.30,544.68 L171.80,544.64 L172.30,544.60 L172.80,544.56 L173.30,544.52 L173.80,544.47 L174.30,544.43 L174.80,544.39 L175.30,544.34 L175.80,544.29 L176.30,544.25 L176.80,544.20 L177.30,544.15 L177.80,544.10 L178.30,544.05 L178.80,544.00 L179.30,543.95 L179.80,543.90 L180.30,543.84 L180.80,543.79 L181.30,543.73 L181.80,543.68 L182.30,543.62 L182.80,543.56 L183.30,543.50 L183.80,543.44 L184.30,543.38 L184.80,543.31 L185.30,543.25 L185.80,543.18 L186.30,543.11 L186.80,543.04 L187.30,542.97 L187.80,542.90 L188.30,542.83 L188.80,542.75 L189.30,542.67 L189.80,542.60 L190.30,542.51 L190.80,542.43 L191.30,542.35 L191.80,542.26 L192.30,542.17 L192.80,542.08 L193.30,541.99 L193.80,541.90 L194.30,541.80 L194.80,541.70 L195.30,541.60 L195.80,541.50 L196.30,541.39 L196.80,541.28 L197.30,541.17 L197.80,541.05 L198.30,540.94 L198.80,540.82 L199.30,540.69 L199.80,540.56 L200.30,540.43 L200.80,540.30 L201.30,540.16 L201.80,540.02 L202.30,539.88 L202.80,539.73 L203.30,539.57 L203.80,539.42 L204.30,539.25 L204.80,539.09 L205.30,538.92 L205.80,538.74 L206.30,538.56 L206.80,538.37 L207.30,538.18 L207.80,537.98 L208.30,537.77 L208.80,537.56 L209.30,537.35 L209.80,537.12 L210.30,536.89 L210.80,536.65 L211.30,536.41 L211.80,536.16 L212.30,535.89 L212.80,535.63 L213.30,535.35 L213.80,535.06 L214.30,534.77 L214.80,534.46 L215.30,534.15 L215.80,533.82 L216.30,533.49 L216.80,533.14 L217.30,532.79 L217.80,532.42 L218.30,532.04 L218.80,531.65 L219.30,531.25 L219.80,530.83 L220.30,530.40 L220.80,529.96 L221.30,529.51 L221.80,529.04 L222.30,528.56 L222.80,528.06 L223.30,527.55 L223.80,527.03 L224.30,526.49 L224.80,525.94 L225.30,525.37 L225.80,524.79 L226.30,524.19 L226.80,523.58 L227.30,522.95 L227.80,522.31 L228.30,521.65 L228.80,520.98 L229.30,520.29 L229.80,519.59 L230.30,518.87 L230.80,518.14 L231.30,517.40 L231.80,516.64 L232.30,515.87 L232.80,515.08 L233.30,514.28 L233.80,513.47 L234.30,512.65 L234.80,511.81 L235.30,510.96 L235.80,510.10 L236.30,509.23 L236.80,508.35 L237.30,507.46 L237.80,506.55 L238.30,505.64 L238.80,504.72 L239.30,503.78 L239.80,502.84 L240.30,501.89 L240.80,500.93 L241.30,499.97 L241.80,498.99 L242.30,498.01 L242.80,497.02 L243.30,496.02 L243.80,495.02 L244.30,494.01 L244.80,492.99 L245.30,491.97 L245.80,490.94 L246.30,489.91 L246.80,488.87 L247.30,487.82 L247.80,486.78 L248.30,485.72 L248.80,484.66 L249.30,483.60 L249.80,482.54 L250.30,481.47 L250.80,480.39 L251.30,479.31 L251.80,478.23 L252.30,477.15 L252.80,476.06 L253.30,474.97 L253.80,473.88 L254.30,472.78 L254.80,471.68 L255.30,470.58 L255.80,469.48 L256.30,468.37 L256.80,467.26 L257.30,466.15 L257.80,465.04 L258.30,463.92 L258.80,462.81 L259.30,461.69 L259.80,460.57 L260.30,459.45 L260.80,458.32 L261.30,457.20 L261.80,456.07 L262.30,454.95 L262.80,453.82 L263.30,452.69 L263.80,451.56 L264.30,450.43 L264.80,449.29 L265.30,448.16 L265.80,447.03 L266.30,445.89 L266.80,444.75 L267.30,443.62 L267.80,442.48 L268.30,441.34 L268.80,440.20 L269.30,439.06 L269.80,437.92" fill="none" stroke="#111111" stroke-width="1.1"/>
<path d="M187.30,659.85 L187.80,658.58 L188.30,657.32 L188.80,656.05 L189.30,654.79 L189.80,653.53 L190.30,652.27 L190.80,651.02 L191.30,649.77 L191.80,648.52 L192.30,647.27 L192.80,646.03 L193.30,644.79 L193.80,643.56 L194.30,642.32 L194.80,641.09 L195.30,639.87 L195.80,638.64 L196.30,637.43 L196.80,636.21 L197.30,635.00 L197.80,633.79 L198.30,632.59 L198.80,631.39 L199.30,630.19 L199.80,629.00 L200.30,627.81 L200.80,626.63 L201.30,625.45 L201.80,624.27 L202.30,623.10 L202.80,621.94 L203.30,620.78 L203.80,619.63 L204.30,618.48 L204.80,617.34 L205.30,616.20 L205.80,615.07 L206.30,613.94 L206.80,612.82 L207.30,611.71 L207.80,610.60 L208.30,609.51 L208.80,608.41 L209.30,607.33 L209.80,606.25 L210.30,605.18 L210.80,604.12 L211.30,603.07 L211.80,602.02 L212.30,600.99 L212.80,599.96 L213.30,598.95 L213.80,597.94 L214.30,596.94 L214.80,595.95 L215.30,594.98 L215.80,594.01 L216.30,593.06 L216.80,592.11 L217.30,591.18 L217.80,590.26 L218.30,589.36 L218.80,588.46 L219.30,587.58 L219.80,586.71 L220.30,585.86 L220.80,585.02 L221.30,584.19 L221.80,583.38 L222.30,582.58 L222.80,581.80 L223.30,581.03 L223.80,580.28 L224.30,579.54 L224.80,578.82 L225.30,578.12 L225.80,577.43 L226.30,576.75 L226.80,576.09 L227.30,575.45 L227.80,574.82 L228.30,574.21 L228.80,573.62 L229.30,573.04 L229.80,572.47 L230.30,571.92 L230.80,571.39 L231.30,570.87 L231.80,570.36 L232.30,569.87 L232.80,569.40 L233.30,568.94 L233.80,568.49 L234.30,568.05 L234.80,567.63 L235.30,567.22 L235.80,566.83 L236.30,566.44 L236.80,566.07 L237.30,565.71 L237.80,565.36 L238.30,565.02 L238.80,564.69 L239.30,564.37 L239.80,564.06 L240.30,563.77 L240.80,563.48 L241.30,563.20 L241.80,562.92 L242.30,562.66 L242.80,562.41 L243.30,562.16 L243.80,561.92 L244.30,561.68 L244.80,561.46 L245.30,561.24 L245.80,561.03 L246.30,560.82 L246.80,560.62 L247.30,560.43 L247.80,560.24 L248.30,560.06 L248.80,559.88 L249.30,559.70 L249.80,559.54 L250.30,559.37 L250.80,559.21 L251.30,559.06 L251.80,558.91 L252.30,558.76 L252.80,558.62 L253.30,558.48 L253.80,558.35 L254.30,558.22 L254.80,558.09 L255.30,557.96 L255.80,557.84 L256.30,557.72 L256.80,557.61 L257.30,557.50 L257.80,557.39 L258.30,557.28 L258.80,557.18 L259.30,557.07 L259.80,556.97 L260.30,556.88 L260.80,556.78 L261.30,556.69 L261.80,556.60 L262.30,556.51 L262.80,556.42 L263.30,556.34 L263.80,556.26 L264.30,556.18 L264.80,556.10 L265.30,556.02 L265.80,555.94 L266.30,555.87 L266.80,555.80 L267.30,555.73 L267.80,555.66 L268.30,555.59 L268.80,555.52 L269.30,555.46 L269.80,555.39 L270.30,555.33 L270.80,555.27 L271.30,555.21 L271.80,555.15 L272.30,555.09 L272.80,555.03 L273.30,554.98 L273.80,554.92 L274.30,554.87 L274.80,554.82 L275.30,554.76 L275.80,554.71 L276.30,554.66 L276.80,554.61 L277.30,554.56 L277.80,554.52 L278.30,554.47 L278.80,554.42 L279.30,554.38 L279.80,554.34 L280.30,554.29 L280.80,554.25 L281.30,554.21 L281.80,554.17 L282.30,554.13 L282.80,554.09 L283.30,554.05 L283.80,554.01 L284.30,553.97 L284.80,553.93 L285.30,553.89 L285.80,553.86 L286.30,553.82 L286.80,553.79 L287.30,553.75 L287.80,553.72 L288.30,553.68 L288.80,553.65 L289.30,553.62 L289.80,553.59 L290.30,553.55 L290.80,553.52 L291.30,553.49 L291.80,553.46 L292.30,553.43 L292.80,553.40 L293.30,553.37 L293.80,553.34 L294.30,553.32 L294.80,553.29 L295.30,553.26 L295.80,553.23 L296.30,553.21 L296.80,553.18 L297.30,553.15 L297.80,553.13 L298.30,553.10 L298.80,553.08 L299.30,553.05 L299.80,553.03 L300.30,553.01 L300.80,552.98 L301.30,552.96 L301.80,552.93 L302.30,552.91 L302.80,552.89 L303.30,552.87 L303.80,552.84 L304.30,552.82 L304.80,552.80 L305.30,552.78 L305.80,552.76 L306.30,552.74 L306.80,552.72 L307.30,552.70 L307.80,552.68 L308.30,552.66 L308.80,552.64 L309.30,552.62 L309.80,552.60 L310.30,552.58 L310.80,552.56 L311.30,552.54 L311.80,552.53 L312.30,552.51 L312.80,552.49 L313.30,552.47 L313.80,552.45 L314.30,552.44 L314.80,552.42 L315.30,552.40 L315.80,552.39 L316.30,552.37 L316.80,552.35 L317.30,552.34 L317.80,552.32 L318.30,552.31 L318.80,552.29 L319.30,552.27 L319.80,552.26 L320.30,552.24 L320.80,552.23 L321.30,552.21 L321.80,552.20 L322.30,552.19 L322.80,552.17 L323.30,552.16 L323.80,552.14 L324.30,552.13 L324.80,552.11 L325.30,552.10 L325.80,552.09 L326.30,552.07 L326.80,552.06 L327.30,552.05 L327.80,552.03 L328.30,552.02 L328.80,552.01 L329.30,552.00 L329.80,551.98 L330.30,551.97 L330.80,551.96 L331.30,551.95 L331.80,551.93 L332.30,551.92 L332.80,551.91 L333.30,551.90 L333.80,551.89 L334.30,551.87 L334.80,551.86 L335.30,551.85 L335.80,551.84 L336.30,551.83 L336.80,551.82 L337.30,551.81 L337.80,551.80 L338.30,551.79 L338.80,551.78 L339.30,551.76 L339.80,551.75 L340.30,551.74 L340.80,551.73 L341.30,551.72 L341.80,551.71 L342.30,551.70" fill="none" stroke="#111111" stroke-width="1.1"/>
<path d="M96.80,547.09 L97.30,547.08 L97.80,547.07 L98.30,547.06 L98.80,547.05 L99.30,547.04 L99.80,547.03 L100.30,547.02 L100.80,547.01 L101.30,547.00 L101.80,546.99 L102.30,546.98 L102.80,546.97 L103.30,546.96 L103.80,546.95 L104.30,546.94 L104.80,546.92 L105.30,546.91 L105.80,546.90 L106.30,546.89 L106.80,546.88 L107.30,546.87 L107.80,546.86 L108.30,546.84 L108.80,546.83 L109.30,546.82 L109.80,546.81 L110.30,546.79 L110.80,546.78 L111.30,546.77 L111.80,546.76 L112.30,546.74 L112.80,546.73 L113.30,546.72 L113.80,546.70 L114.30,546.69 L114.80,546.68 L115.30,546.66 L115.80,546.65 L116.30,546.64 L116.80,546.62 L117.30,546.61 L117.80,546.59 L118.30,546.58 L118.80,546.57 L119.30,546.55 L119.80,546.54 L120.30,546.52 L120.80,546.51 L121.30,546.49 L121.80,546.48 L122.30,546.46 L122.80,546.44 L123.30,546.43 L123.80,546.41 L124.30,546.40 L124.80,546.38 L125.30,546.36 L125.80,546.35 L126.30,546.33 L126.80,546.31 L127.30,546.29 L127.80,546.28 L128.30,546.26 L128.80,546.24 L129.30,546.22 L129.80,546.20 L130.30,546.18 L130.80,546.17 L131.30,546.15 L131.80,546.13 L132.30,546.11 L132.80,546.09 L133.30,546.07 L133.80,546.05 L134.30,546.03 L134.80,546.01 L135.30,545.99 L135.80,545.97 L136.30,545.94 L136.80,545.92 L137.30,545.90 L137.80,545.88 L138.30,545.86 L138.80,545.83 L139.30,545.81 L139.80,545.79 L140.30,545.76 L140.80,545.74 L141.30,545.71 L141.80,545.69 L142.30,545.66 L142.80,545.64 L143.30,545.61 L143.80,545.59 L144.30,545.56 L144.80,545.53 L145.30,545.51 L145.80,545.48 L146.30,545.45 L146.80,545.42 L147.30,545.40 L147.80,545.37 L148.30,545.34 L148.80,545.31 L149.30,545.28 L149.80,545.25 L150.30,545.22 L150.80,545.18 L151.30,545.15 L151.80,545.12 L152.30,545.09 L152.80,545.05 L153.30,545.02 L153.80,544.98 L154.30,544.95 L154.80,544.91 L155.30,544.88 L155.80,544.84 L156.30,544.80 L156.80,544.77 L157.30,544.73 L157.80,544.69 L158.30,544.65 L158.80,544.61 L159.30,544.57 L159.80,544.52 L160.30,544.48 L160.80,544.44 L161.30,544.39 L161.80,544.35 L162.30,544.30 L162.80,544.26 L163.30,544.21 L163.80,544.16 L164.30,544.11 L164.80,544.06 L165.30,544.01 L165.80,543.96 L166.30,543.91 L166.80,543.86 L167.30,543.80 L167.80,543.75 L168.30,543.69 L168.80,543.63 L169.30,543.57 L169.80,543.51 L170.30,543.45 L170.80,543.39 L171.30,543.33 L171.80,543.26 L172.30,543.19 L172.80,543.13 L173.30,543.06 L173.80,542.99 L174.30,542.92 L174.80,542.84 L175.30,542.77 L175.80,542.69 L176.30,542.61 L176.80,542.53 L177.30,542.45 L177.80,542.37 L178.30,542.28 L178.80,542.19 L179.30,542.10 L179.80,542.01 L180.30,541.92 L180.80,541.82 L181.30,541.72 L181.80,541.62 L182.30,541.52 L182.80,541.41 L183.30,541.30 L183.80,541.19 L184.30,541.08 L184.80,540.96 L185.30,540.84 L185.80,540.72 L186.30,540.59 L186.80,540.46 L187.30,540.33 L187.80,540.19 L188.30,540.05 L188.80,539.91 L189.30,539.76 L189.80,539.60 L190.30,539.45 L190.80,539.29 L191.30,539.12 L191.80,538.95 L192.30,538.77 L192.80,538.59 L193.30,538.41 L193.80,538.22 L194.30,538.02 L194.80,537.82 L195.30,537.61 L195.80,537.39 L196.30,537.17 L196.80,536.94 L197.30,536.70 L197.80,536.46 L198.30,536.21 L198.80,535.95 L199.30,535.68 L199.80,535.40 L200.30,535.12 L200.80,534.83 L201.30,534.52 L201.80,534.21 L202.30,533.89 L202.80,533.56 L203.30,533.21 L203.80,532.86 L204.30,532.49 L204.80,532.12 L205.30,531.73 L205.80,531.33 L206.30,530.92 L206.80,530.49 L207.30,530.05 L207.80,529.60 L208.30,529.14 L208.80,528.66 L209.30,528.16 L209.80,527.66 L210.30,527.14 L210.80,526.60 L211.30,526.05 L211.80,525.49 L212.30,524.91 L212.80,524.31 L213.30,523.70 L213.80,523.08 L214.30,522.44 L214.80,521.78 L215.30,521.11 L215.80,520.43 L216.30,519.73 L216.80,519.02 L217.30,518.29 L217.80,517.55 L218.30,516.79 L218.80,516.02 L219.30,515.24 L219.80,514.45 L220.30,513.64 L220.80,512.81 L221.30,511.98 L221.80,511.13 L222.30,510.28 L222.80,509.41 L223.30,508.53 L223.80,507.64 L224.30,506.74 L224.80,505.82 L225.30,504.90 L225.80,503.97 L226.30,503.03 L226.80,502.08 L227.30,501.13 L227.80,500.16 L228.30,499.19 L228.80,498.21 L229.30,497.22 L229.80,496.22 L230.30,495.22 L230.80,494.21 L231.30,493.20 L231.80,492.17 L232.30,491.15 L232.80,490.11 L233.30,489.08 L233.80,488.03 L234.30,486.99 L234.80,485.93 L235.30,484.88 L235.80,483.81 L236.30,482.75 L236.80,481.68 L237.30,480.61 L237.80,479.53 L238.30,478.45 L238.80,477.37 L239.30,476.28 L239.80,475.19 L240.30,474.10 L240.80,473.00 L241.30,471.90 L241.80,470.80 L242.30,469.70 L242.80,468.59 L243.30,467.48 L243.80,466.37 L244.30,465.26 L244.80,464.15 L245.30,463.03 L245.80,461.91 L246.30,460.79 L246.80,459.67 L247.30,458.55 L247.80,457.43 L248.30,456.30 L248.80,455.17 L249.30,454.04 L249.80,452.92 L250.30,451.78 L250.80,450.65 L251.30,449.52 L251.80,448.39 L252.30,447.25 L252.80,446.12 L253.30,444.98 L253.80,443.84 L254.30,442.71 L254.80,441.57 L255.30,440.43 L255.80,439.29 L256.30,438.15" fill="none" stroke="#2424c8" stroke-width="1.1"/>
<path d="M173.80,660.11 L174.30,658.84 L174.80,657.57 L175.30,656.30 L175.80,655.04 L176.30,653.78 L176.80,652.52 L177.30,651.27 L177.80,650.02 L178.30,648.77 L178.80,647.52 L179.30,646.28 L179.80,645.04 L180.30,643.80 L180.80,642.57 L181.30,641.34 L181.80,640.11 L182.30,638.89 L182.80,637.67 L183.30,636.45 L183.80,635.24 L184.30,634.03 L184.80,632.83 L185.30,631.63 L185.80,630.43 L186.30,629.24 L186.80,628.05 L187.30,626.86 L187.80,625.68 L188.30,624.51 L188.80,623.34 L189.30,622.17 L189.80,621.01 L190.30,619.86 L190.80,618.71 L191.30,617.56 L191.80,616.43 L192.30,615.29 L192.80,614.17 L193.30,613.05 L193.80,611.93 L194.30,610.82 L194.80,609.72 L195.30,608.63 L195.80,607.55 L196.30,606.47 L196.80,605.40 L197.30,604.33 L197.80,603.28 L198.30,602.23 L198.80,601.20 L199.30,600.17 L199.80,599.15 L200.30,598.14 L200.80,597.14 L201.30,596.15 L201.80,595.17 L202.30,594.20 L202.80,593.25 L203.30,592.30 L203.80,591.37 L204.30,590.45 L204.80,589.54 L205.30,588.64 L205.80,587.76 L206.30,586.89 L206.80,586.03 L207.30,585.19 L207.80,584.36 L208.30,583.54 L208.80,582.74 L209.30,581.96 L209.80,581.19 L210.30,580.43 L210.80,579.69 L211.30,578.97 L211.80,578.26 L212.30,577.56 L212.80,576.89 L213.30,576.22 L213.80,575.58 L214.30,574.95 L214.80,574.33 L215.30,573.73 L215.80,573.15 L216.30,572.58 L216.80,572.03 L217.30,571.49 L217.80,570.97 L218.30,570.46 L218.80,569.97 L219.30,569.49 L219.80,569.03 L220.30,568.58 L220.80,568.14 L221.30,567.71 L221.80,567.30 L222.30,566.90 L222.80,566.52 L223.30,566.14 L223.80,565.78 L224.30,565.43 L224.80,565.09 L225.30,564.76 L225.80,564.44 L226.30,564.13 L226.80,563.82 L227.30,563.53 L227.80,563.25 L228.30,562.98 L228.80,562.71 L229.30,562.46 L229.80,562.21 L230.30,561.96 L230.80,561.73 L231.30,561.50 L231.80,561.28 L232.30,561.07 L232.80,560.86 L233.30,560.66 L233.80,560.47 L234.30,560.28 L234.80,560.09 L235.30,559.91 L235.80,559.74 L236.30,559.57 L236.80,559.41 L237.30,559.25 L237.80,559.09 L238.30,558.94 L238.80,558.79 L239.30,558.65 L239.80,558.51 L240.30,558.37 L240.80,558.24 L241.30,558.11 L241.80,557.99 L242.30,557.87 L242.80,557.75 L243.30,557.63 L243.80,557.52 L244.30,557.41 L244.80,557.30 L245.30,557.20 L245.80,557.09 L246.30,556.99 L246.80,556.90 L247.30,556.80 L247.80,556.71 L248.30,556.62 L248.80,556.53 L249.30,556.44 L249.80,556.36 L250.30,556.27 L250.80,556.19 L251.30,556.11 L251.80,556.04 L252.30,555.96 L252.80,555.88 L253.30,555.81 L253.80,555.74 L254.30,555.67 L254.80,555.60 L255.30,555.53 L255.80,555.47 L256.30,555.40 L256.80,555.34 L257.30,555.28 L257.80,555.22 L258.30,555.16 L258.80,555.10 L259.30,555.04 L259.80,554.99 L260.30,554.93 L260.80,554.88 L261.30,554.83 L261.80,554.77 L262.30,554.72 L262.80,554.67 L263.30,554.62 L263.80,554.57 L264.30,554.53 L264.80,554.48 L265.30,554.43 L265.80,554.39 L266.30,554.34 L266.80,554.30 L267.30,554.26 L267.80,554.22 L268.30,554.17 L268.80,554.13 L269.30,554.09 L269.80,554.05 L270.30,554.01 L270.80,553.98 L271.30,553.94 L271.80,553.90 L272.30,553.87 L272.80,553.83 L273.30,553.79 L273.80,553.76 L274.30,553.72 L274.80,553.69 L275.30,553.66 L275.80,553.62 L276.30,553.59 L276.80,553.56 L277.30,553.53 L277.80,553.50 L278.30,553.47 L278.80,553.44 L279.30,553.41 L279.80,553.38 L280.30,553.35 L280.80,553.32 L281.30,553.29 L281.80,553.27 L282.30,553.24 L282.80,553.21 L283.30,553.19 L283.80,553.16 L284.30,553.13 L284.80,553.11 L285.30,553.08 L285.80,553.06 L286.30,553.03 L286.80,553.01 L287.30,552.99 L287.80,552.96 L288.30,552.94 L288.80,552.92 L289.30,552.89 L289.80,552.87 L290.30,552.85 L290.80,552.83 L291.30,552.81 L291.80,552.78 L292.30,552.76 L292.80,552.74 L293.30,552.72 L293.80,552.70 L294.30,552.68 L294.80,552.66 L295.30,552.64 L295.80,552.62 L296.30,552.60 L296.80,552.58 L297.30,552.57 L297.80,552.55 L298.30,552.53 L298.80,552.51 L299.30,552.49 L299.80,552.48 L300.30,552.46 L300.80,552.44 L301.30,552.42 L301.80,552.41 L302.30,552.39 L302.80,552.37 L303.30,552.36 L303.80,552.34 L304.30,552.33 L304.80,552.31 L305.30,552.29 L305.80,552.28 L306.30,552.26 L306.80,552.25 L307.30,552.23 L307.80,552.22 L308.30,552.20 L308.80,552.19 L309.30,552.17 L309.80,552.16 L310.30,552.15 L310.80,552.13 L311.30,552.12 L311.80,552.10 L312.30,552.09 L312.80,552.08 L313.30,552.06 L313.80,552.05 L314.30,552.04 L314.80,552.02 L315.30,552.01 L315.80,552.00 L316.30,551.99 L316.80,551.97 L317.30,551.96 L317.80,551.95 L318.30,551.94 L318.80,551.92 L319.30,551.91 L319.80,551.90 L320.30,551.89 L320.80,551.88 L321.30,551.87 L321.80,551.85 L322.30,551.84 L322.80,551.83 L323.30,551.82 L323.80,551.81 L324.30,551.80 L324.80,551.79 L325.30,551.78 L325.80,551.77 L326.30,551.76 L326.80,551.75 L327.30,551.74 L327.80,551.73 L328.30,551.71 L328.80,551.70 L329.30,551.69 L329.80,551.68 L330.30,551.68 L330.80,551.67 L331.30,551.66 L331.80,551.65 L332.30,551.64 L332.80,551.63 L333.30,551.62 L333.80,551.61 L334.30,551.60 L334.80,551.59 L335.30,551.58 L335.80,551.57 L336.30,551.56 L336.80,551.55 L337.30,551.55 L337.80,551.54 L338.30,551.53 L338.80,551.52 L339.30,551.51 L339.80,551.50 L340.30,551.49 L340.80,551.49 L341.30,551.48 L341.80,551.47 L342.30,551.46" fill="none" stroke="#2424c8" stroke-width="1.1"/>
<path d="M96.80,546.82 L97.30,546.80 L97.80,546.79 L98.30,546.78 L98.80,546.77 L99.30,546.75 L99.80,546.74 L100.30,546.73 L100.80,546.72 L101.30,546.70 L101.80,546.69 L102.30,546.68 L102.80,546.66 L103.30,546.65 L103.80,546.63 L104.30,546.62 L104.80,546.61 L105.30,546.59 L105.80,546.58 L106.30,546.56 L106.80,546.55 L107.30,546.53 L107.80,546.52 L108.30,546.50 L108.80,546.49 L109.30,546.47 L109.80,546.46 L110.30,546.44 L110.80,546.42 L111.30,546.41 L111.80,546.39 L112.30,546.38 L112.80,546.36 L113.30,546.34 L113.80,546.32 L114.30,546.31 L114.80,546.29 L115.30,546.27 L115.80,546.25 L116.30,546.24 L116.80,546.22 L117.30,546.20 L117.80,546.18 L118.30,546.16 L118.80,546.14 L119.30,546.12 L119.80,546.10 L120.30,546.08 L120.80,546.06 L121.30,546.04 L121.80,546.02 L122.30,546.00 L122.80,545.98 L123.30,545.96 L123.80,545.94 L124.30,545.92 L124.80,545.90 L125.30,545.87 L125.80,545.85 L126.30,545.83 L126.80,545.80 L127.30,545.78 L127.80,545.76 L128.30,545.73 L128.80,545.71 L129.30,545.68 L129.80,545.66 L130.30,545.63 L130.80,545.61 L131.30,545.58 L131.80,545.56 L132.30,545.53 L132.80,545.50 L133.30,545.47 L133.80,545.45 L134.30,545.42 L134.80,545.39 L135.30,545.36 L135.80,545.33 L136.30,545.30 L136.80,545.27 L137.30,545.24 L137.80,545.21 L138.30,545.18 L138.80,545.15 L139.30,545.11 L139.80,545.08 L140.30,545.05 L140.80,545.01 L141.30,544.98 L141.80,544.94 L142.30,544.91 L142.80,544.87 L143.30,544.83 L143.80,544.80 L144.30,544.76 L144.80,544.72 L145.30,544.68 L145.80,544.64 L146.30,544.60 L146.80,544.56 L147.30,544.52 L147.80,544.47 L148.30,544.43 L148.80,544.39 L149.30,544.34 L149.80,544.29 L150.30,544.25 L150.80,544.20 L151.30,544.15 L151.80,544.10 L152.30,544.05 L152.80,544.00 L153.30,543.95 L153.80,543.90 L154.30,543.84 L154.80,543.79 L155.30,543.73 L155.80,543.68 L156.30,543.62 L156.80,543.56 L157.30,543.50 L157.80,543.44 L158.30,543.38 L158.80,543.31 L159.30,543.25 L159.80,543.18 L160.30,543.11 L160.80,543.04 L161.30,542.97 L161.80,542.90 L162.30,542.83 L162.80,542.75 L163.30,542.67 L163.80,542.60 L164.30,542.51 L164.80,542.43 L165.30,542.35 L165.80,542.26 L166.30,542.17 L166.80,542.08 L167.30,541.99 L167.80,541.90 L168.30,541.80 L168.80,541.70 L169.30,541.60 L169.80,541.50 L170.30,541.39 L170.80,541.28 L171.30,541.17 L171.80,541.05 L172.30,540.94 L172.80,540.82 L173.30,540.69 L173.80,540.56 L174.30,540.43 L174.80,540.30 L175.30,540.16 L175.80,540.02 L176.30,539.88 L176.80,539.73 L177.30,539.57 L177.80,539.42 L178.30,539.25 L178.80,539.09 L179.30,538.92 L179.80,538.74 L180.30,538.56 L180.80,538.37 L181.30,538.18 L181.80,537.98 L182.30,537.77 L182.80,537.56 L183.30,537.35 L183.80,537.12 L184.30,536.89 L184.80,536.65 L185.30,536.41 L185.80,536.16 L186.30,535.89 L186.80,535.63 L187.30,535.35 L187.80,535.06 L188.30,534.77 L188.80,534.46 L189.30,534.15 L189.80,533.82 L190.30,533.49 L190.80,533.14 L191.30,532.79 L191.80,532.42 L192.30,532.04 L192.80,531.65 L193.30,531.25 L193.80,530.83 L194.30,530.40 L194.80,529.96 L195.30,529.51 L195.80,529.04 L196.30,528.56 L196.80,528.06 L197.30,527.55 L197.80,527.03 L198.30,526.49 L198.80,525.94 L199.30,525.37 L199.80,524.79 L200.30,524.19 L200.80,523.58 L201.30,522.95 L201.80,522.31 L202.30,521.65 L202.80,520.98 L203.30,520.29 L203.80,519.59 L204.30,518.87 L204.80,518.14 L205.30,517.40 L205.80,516.64 L206.30,515.87 L206.80,515.08 L207.30,514.28 L207.80,513.47 L208.30,512.65 L208.80,511.81 L209.30,510.96 L209.80,510.10 L210.30,509.23 L210.80,508.35 L211.30,507.46 L211.80,506.55 L212.30,505.64 L212.80,504.72 L213.30,503.78 L213.80,502.84 L214.30,501.89 L214.80,500.93 L215.30,499.97 L215.80,498.99 L216.30,498.01 L216.80,497.02 L217.30,496.02 L217.80,495.02 L218.30,494.01 L218.80,492.99 L219.30,491.97 L219.80,490.94 L220.30,489.91 L220.80,488.87 L221.30,487.82 L221.80,486.78 L222.30,485.72 L222.80,484.66 L223.30,483.60 L223.80,482.54 L224.30,481.47 L224.80,480.39 L225.30,479.31 L225.80,478.23 L226.30,477.15 L226.80,476.06 L227.30,474.97 L227.80,473.88 L228.30,472.78 L228.80,471.68 L229.30,470.58 L229.80,469.48 L230.30,468.37 L230.80,467.26 L231.30,466.15 L231.80,465.04 L232.30,463.92 L232.80,462.81 L233.30,461.69 L233.80,460.57 L234.30,459.45 L234.80,458.32 L235.30,457.20 L235.80,456.07 L236.30,454.95 L236.80,453.82 L237.30,452.69 L237.80,451.56 L238.30,450.43 L238.80,449.29 L239.30,448.16 L239.80,447.03 L240.30,445.89 L240.80,444.75 L241.30,443.62 L241.80,442.48 L242.30,441.34 L242.80,440.20 L243.30,439.06 L243.80,437.92" fill="none" stroke="#2f8a2f" stroke-width="1.1"/>
<path d="M161.30,659.85 L161.80,658.58 L162.30,657.32 L162.80,656.05 L163.30,654.79 L163.80,653.53 L164.30,652.27 L164.80,651.02 L165.30,649.77 L165.80,648.52 L166.30,647.27 L166.80,646.03 L167.30,644.79 L167.80,643.56 L168.30,642.32 L168.80,641.09 L169.30,639.87 L169.80,638.64 L170.30,637.43 L170.80,636.21 L171.30,635.00 L171.80,633.79 L172.30,632.59 L172.80,631.39 L173.30,630.19 L173.80,629.00 L174.30,627.81 L174.80,626.63 L175.30,625.45 L175.80,624.27 L176.30,623.10 L176.80,621.94 L177.30,620.78 L177.80,619.63 L178.30,618.48 L178.80,617.34 L179.30,616.20 L179.80,615.07 L180.30,613.94 L180.80,612.82 L181.30,611.71 L181.80,610.60 L182.30,609.51 L182.80,608.41 L183.30,607.33 L183.80,606.25 L184.30,605.18 L184.80,604.12 L185.30,603.07 L185.80,602.02 L186.30,600.99 L186.80,599.96 L187.30,598.95 L187.80,597.94 L188.30,596.94 L188.80,595.95 L189.30,594.98 L189.80,594.01 L190.30,593.06 L190.80,592.11 L191.30,591.18 L191.80,590.26 L192.30,589.36 L192.80,588.46 L193.30,587.58 L193.80,586.71 L194.30,585.86 L194.80,585.02 L195.30,584.19 L195.80,583.38 L196.30,582.58 L196.80,581.80 L197.30,581.03 L197.80,580.28 L198.30,579.54 L198.80,578.82 L199.30,578.12 L199.80,577.43 L200.30,576.75 L200.80,576.09 L201.30,575.45 L201.80,574.82 L202.30,574.21 L202.80,573.62 L203.30,573.04 L203.80,572.47 L204.30,571.92 L204.80,571.39 L205.30,570.87 L205.80,570.36 L206.30,569.87 L206.80,569.40 L207.30,568.94 L207.80,568.49 L208.30,568.05 L208.80,567.63 L209.30,567.22 L209.80,566.83 L210.30,566.44 L210.80,566.07 L211.30,565.71 L211.80,565.36 L212.30,565.02 L212.80,564.69 L213.30,564.37 L213.80,564.06 L214.30,563.77 L214.80,563.48 L215.30,563.20 L215.80,562.92 L216.30,562.66 L216.80,562.41 L217.30,562.16 L217.80,561.92 L218.30,561.68 L218.80,561.46 L219.30,561.24 L219.80,561.03 L220.30,560.82 L220.80,560.62 L221.30,560.43 L221.80,560.24 L222.30,560.06 L222.80,559.88 L223.30,559.70 L223.80,559.54 L224.30,559.37 L224.80,559.21 L225.30,559.06 L225.80,558.91 L226.30,558.76 L226.80,558.62 L227.30,558.48 L227.80,558.35 L228.30,558.22 L228.80,558.09 L229.30,557.96 L229.80,557.84 L230.30,557.72 L230.80,557.61 L231.30,557.50 L231.80,557.39 L232.30,557.28 L232.80,557.18 L233.30,557.07 L233.80,556.97 L234.30,556.88 L234.80,556.78 L235.30,556.69 L235.80,556.60 L236.30,556.51 L236.80,556.42 L237.30,556.34 L237.80,556.26 L238.30,556.18 L238.80,556.10 L239.30,556.02 L239.80,555.94 L240.30,555.87 L240.80,555.80 L241.30,555.73 L241.80,555.66 L242.30,555.59 L242.80,555.52 L243.30,555.46 L243.80,555.39 L244.30,555.33 L244.80,555.27 L245.30,555.21 L245.80,555.15 L246.30,555.09 L246.80,555.03 L247.30,554.98 L247.80,554.92 L248.30,554.87 L248.80,554.82 L249.30,554.76 L249.80,554.71 L250.30,554.66 L250.80,554.61 L251.30,554.56 L251.80,554.52 L252.30,554.47 L252.80,554.42 L253.30,554.38 L253.80,554.34 L254.30,554.29 L254.80,554.25 L255.30,554.21 L255.80,554.17 L256.30,554.13 L256.80,554.09 L257.30,554.05 L257.80,554.01 L258.30,553.97 L258.80,553.93 L259.30,553.89 L259.80,553.86 L260.30,553.82 L260.80,553.79 L261.30,553.75 L261.80,553.72 L262.30,553.68 L262.80,553.65 L263.30,553.62 L263.80,553.59 L264.30,553.55 L264.80,553.52 L265.30,553.49 L265.80,553.46 L266.30,553.43 L266.80,553.40 L267.30,553.37 L267.80,553.34 L268.30,553.32 L268.80,553.29 L269.30,553.26 L269.80,553.23 L270.30,553.21 L270.80,553.18 L271.30,553.15 L271.80,553.13 L272.30,553.10 L272.80,553.08 L273.30,553.05 L273.80,553.03 L274.30,553.01 L274.80,552.98 L275.30,552.96 L275.80,552.93 L276.30,552.91 L276.80,552.89 L277.30,552.87 L277.80,552.84 L278.30,552.82 L278.80,552.80 L279.30,552.78 L279.80,552.76 L280.30,552.74 L280.80,552.72 L281.30,552.70 L281.80,552.68 L282.30,552.66 L282.80,552.64 L283.30,552.62 L283.80,552.60 L284.30,552.58 L284.80,552.56 L285.30,552.54 L285.80,552.53 L286.30,552.51 L286.80,552.49 L287.30,552.47 L287.80,552.45 L288.30,552.44 L288.80,552.42 L289.30,552.40 L289.80,552.39 L290.30,552.37 L290.80,552.35 L291.30,552.34 L291.80,552.32 L292.30,552.31 L292.80,552.29 L293.30,552.27 L293.80,552.26 L294.30,552.24 L294.80,552.23 L295.30,552.21 L295.80,552.20 L296.30,552.19 L296.80,552.17 L297.30,552.16 L297.80,552.14 L298.30,552.13 L298.80,552.11 L299.30,552.10 L299.80,552.09 L300.30,552.07 L300.80,552.06 L301.30,552.05 L301.80,552.03 L302.30,552.02 L302.80,552.01 L303.30,552.00 L303.80,551.98 L304.30,551.97 L304.80,551.96 L305.30,551.95 L305.80,551.93 L306.30,551.92 L306.80,551.91 L307.30,551.90 L307.80,551.89 L308.30,551.87 L308.80,551.86 L309.30,551.85 L309.80,551.84 L310.30,551.83 L310.80,551.82 L311.30,551.81 L311.80,551.80 L312.30,551.79 L312.80,551.78 L313.30,551.76 L313.80,551.75 L314.30,551.74 L314.80,551.73 L315.30,551.72 L315.80,551.71 L316.30,551.70 L316.80,551.69 L317.30,551.68 L317.80,551.67 L318.30,551.66 L318.80,551.65 L319.30,551.64 L319.80,551.63 L320.30,551.63 L320.80,551.62 L321.30,551.61 L321.80,551.60 L322.30,551.59 L322.80,551.58 L323.30,551.57 L323.80,551.56 L324.30,551.55 L324.80,551.54 L325.30,551.54 L325.80,551.53 L326.30,551.52 L326.80,551.51 L327.30,551.50 L327.80,551.49 L328.30,551.48 L328.80,551.48 L329.30,551.47 L329.80,551.46 L330.30,551.45 L330.80,551.44 L331.30,551.44 L331.80,551.43 L332.30,551.42 L332.80,551.41 L333.30,551.40 L333.80,551.40 L334.30,551.39 L334.80,551.38 L335.30,551.37 L335.80,551.37 L336.30,551.36 L336.80,551.35 L337.30,551.35 L337.80,551.34 L338.30,551.33 L338.80,551.32 L339.30,551.32 L339.80,551.31 L340.30,551.30 L340.80,551.30 L341.30,551.29 L341.80,551.28 L342.30,551.28" fill="none" stroke="#2f8a2f" stroke-width="1.1"/>
<line x1="237.5" y1="521.8" x2="245.5" y2="521.8" stroke="#a0a0a0" stroke-width="1"/>
<line x1="237.5" y1="574.3" x2="245.5" y2="574.3" stroke="#a0a0a0" stroke-width="1"/>
<line x1="241.5" y1="524.8" x2="241.5" y2="571.3" stroke="#e0262a" stroke-width="1.05"/>
<path d="M241.5,521.8 l-2.6,4.5 h5.2z M241.5,574.3 l-2.6,-4.5 h5.2z" fill="#e0262a"/>
<line x1="223.3" y1="521.8" x2="231.3" y2="521.8" stroke="#a0a0a0" stroke-width="1"/>
<line x1="223.3" y1="574.3" x2="231.3" y2="574.3" stroke="#a0a0a0" stroke-width="1"/>
<line x1="227.3" y1="524.8" x2="227.3" y2="571.3" stroke="#111111" stroke-width="1.05"/>
<path d="M227.3,521.8 l-2.6,4.5 h5.2z M227.3,574.3 l-2.6,-4.5 h5.2z" fill="#111111"/>
<line x1="209.9" y1="521.8" x2="217.9" y2="521.8" stroke="#a0a0a0" stroke-width="1"/>
<line x1="209.9" y1="574.3" x2="217.9" y2="574.3" stroke="#a0a0a0" stroke-width="1"/>
<line x1="213.9" y1="524.8" x2="213.9" y2="571.3" stroke="#2424c8" stroke-width="1.05"/>
<path d="M213.9,521.8 l-2.6,4.5 h5.2z M213.9,574.3 l-2.6,-4.5 h5.2z" fill="#2424c8"/>
<line x1="197.3" y1="521.8" x2="205.3" y2="521.8" stroke="#a0a0a0" stroke-width="1"/>
<line x1="197.3" y1="574.3" x2="205.3" y2="574.3" stroke="#a0a0a0" stroke-width="1"/>
<line x1="201.3" y1="524.8" x2="201.3" y2="571.3" stroke="#3b6e22" stroke-width="1.05"/>
<path d="M201.3,521.8 l-2.6,4.5 h5.2z M201.3,574.3 l-2.6,-4.5 h5.2z" fill="#3b6e22"/>
</g>
<rect x="96.8" y="457.3" width="245.59999999999997" height="182.99999999999994" fill="none" stroke="#111" stroke-width="1.2"/>
<line x1="96.8" y1="617.42" x2="99.3" y2="617.42" stroke="#111" stroke-width="1"/>
<line x1="342.4" y1="617.42" x2="339.9" y2="617.42" stroke="#111" stroke-width="1"/>
<line x1="96.8" y1="594.55" x2="100.8" y2="594.55" stroke="#111" stroke-width="1"/>
<line x1="342.4" y1="594.55" x2="338.4" y2="594.55" stroke="#111" stroke-width="1"/>
<line x1="96.8" y1="571.67" x2="99.3" y2="571.67" stroke="#111" stroke-width="1"/>
<line x1="342.4" y1="571.67" x2="339.9" y2="571.67" stroke="#111" stroke-width="1"/>
<line x1="96.8" y1="548.80" x2="100.8" y2="548.80" stroke="#111" stroke-width="1"/>
<line x1="342.4" y1="548.80" x2="338.4" y2="548.80" stroke="#111" stroke-width="1"/>
<line x1="96.8" y1="525.92" x2="99.3" y2="525.92" stroke="#111" stroke-width="1"/>
<line x1="342.4" y1="525.92" x2="339.9" y2="525.92" stroke="#111" stroke-width="1"/>
<line x1="96.8" y1="503.05" x2="100.8" y2="503.05" stroke="#111" stroke-width="1"/>
<line x1="342.4" y1="503.05" x2="338.4" y2="503.05" stroke="#111" stroke-width="1"/>
<line x1="96.8" y1="480.17" x2="99.3" y2="480.17" stroke="#111" stroke-width="1"/>
<line x1="342.4" y1="480.17" x2="339.9" y2="480.17" stroke="#111" stroke-width="1"/>
<line x1="127.50" y1="640.3" x2="127.50" y2="637.8" stroke="#111" stroke-width="1"/>
<line x1="127.50" y1="457.3" x2="127.50" y2="459.8" stroke="#111" stroke-width="1"/>
<line x1="158.20" y1="640.3" x2="158.20" y2="636.3" stroke="#111" stroke-width="1"/>
<line x1="158.20" y1="457.3" x2="158.20" y2="461.3" stroke="#111" stroke-width="1"/>
<line x1="188.90" y1="640.3" x2="188.90" y2="637.8" stroke="#111" stroke-width="1"/>
<line x1="188.90" y1="457.3" x2="188.90" y2="459.8" stroke="#111" stroke-width="1"/>
<line x1="219.60" y1="640.3" x2="219.60" y2="636.3" stroke="#111" stroke-width="1"/>
<line x1="219.60" y1="457.3" x2="219.60" y2="461.3" stroke="#111" stroke-width="1"/>
<line x1="250.30" y1="640.3" x2="250.30" y2="637.8" stroke="#111" stroke-width="1"/>
<line x1="250.30" y1="457.3" x2="250.30" y2="459.8" stroke="#111" stroke-width="1"/>
<line x1="281.00" y1="640.3" x2="281.00" y2="636.3" stroke="#111" stroke-width="1"/>
<line x1="281.00" y1="457.3" x2="281.00" y2="461.3" stroke="#111" stroke-width="1"/>
<line x1="311.70" y1="640.3" x2="311.70" y2="637.8" stroke="#111" stroke-width="1"/>
<line x1="311.70" y1="457.3" x2="311.70" y2="459.8" stroke="#111" stroke-width="1"/>
<line x1="129.4" y1="296.6" x2="141.1" y2="296.6" stroke="#e0262a" stroke-width="1.2"/>
<path d="M126.4,296.6 l4.6,-2.7 v5.4z M144.1,296.6 l-4.6,-2.7 v5.4z" fill="#e0262a"/>
<line x1="129.4" y1="309.6" x2="141.1" y2="309.6" stroke="#111111" stroke-width="1.2"/>
<path d="M126.4,309.6 l4.6,-2.7 v5.4z M144.1,309.6 l-4.6,-2.7 v5.4z" fill="#111111"/>
<line x1="129.4" y1="322.8" x2="141.1" y2="322.8" stroke="#2424c8" stroke-width="1.2"/>
<path d="M126.4,322.8 l4.6,-2.7 v5.4z M144.1,322.8 l-4.6,-2.7 v5.4z" fill="#2424c8"/>
<line x1="129.4" y1="335.9" x2="141.1" y2="335.9" stroke="#3b6e22" stroke-width="1.2"/>
<path d="M126.4,335.9 l4.6,-2.7 v5.4z M144.1,335.9 l-4.6,-2.7 v5.4z" fill="#3b6e22"/>
<line x1="127.8" y1="383.9" x2="143.8" y2="383.9" stroke="#e0262a" stroke-width="1.4"/>
<line x1="127.8" y1="400.9" x2="143.8" y2="400.9" stroke="#222" stroke-width="1.4"/>
<line x1="127.8" y1="416.9" x2="143.8" y2="416.9" stroke="#2424c8" stroke-width="1.4"/>
<line x1="127.8" y1="432.9" x2="143.8" y2="432.9" stroke="#2e6b2e" stroke-width="1.4"/>
<line x1="278.0" y1="332.7" x2="295.0" y2="332.7" stroke="#a85238" stroke-width="1" stroke-dasharray="1.2 0.7"/>
<line x1="111.8" y1="493.3" x2="122.1" y2="493.3" stroke="#e0262a" stroke-width="1.2"/>
<path d="M108.8,493.3 l4.6,-2.7 v5.4z M125.1,493.3 l-4.6,-2.7 v5.4z" fill="#e0262a"/>
<line x1="111.8" y1="505.9" x2="122.1" y2="505.9" stroke="#111111" stroke-width="1.2"/>
<path d="M108.8,505.9 l4.6,-2.7 v5.4z M125.1,505.9 l-4.6,-2.7 v5.4z" fill="#111111"/>
<line x1="111.8" y1="519.1" x2="122.1" y2="519.1" stroke="#2424c8" stroke-width="1.2"/>
<path d="M108.8,519.1 l4.6,-2.7 v5.4z M125.1,519.1 l-4.6,-2.7 v5.4z" fill="#2424c8"/>
<line x1="111.8" y1="533.2" x2="122.1" y2="533.2" stroke="#3b6e22" stroke-width="1.2"/>
<path d="M108.8,533.2 l4.6,-2.7 v5.4z M125.1,533.2 l-4.6,-2.7 v5.4z" fill="#3b6e22"/>
<line x1="281.9" y1="580.7" x2="298.1" y2="580.7" stroke="#d03030" stroke-width="1.4"/>
<line x1="281.9" y1="597.2" x2="298.1" y2="597.2" stroke="#303030" stroke-width="1.4"/>
<line x1="281.9" y1="613.4" x2="298.1" y2="613.4" stroke="#2020b0" stroke-width="1.4"/>
<line x1="281.9" y1="630.0" x2="298.1" y2="630.0" stroke="#7a8a78" stroke-width="1.4"/>
<line x1="272.3" y1="524.2" x2="289.3" y2="524.2" stroke="#a85238" stroke-width="1" stroke-dasharray="1.2 0.7"/>
<text x="152" y="46" font-size="12" text-anchor="start" fill="#000" stroke="#000"  >Experiment</text>
<text x="152" y="64.5" font-size="12" text-anchor="start" fill="#000" stroke="#000"  >Calculation</text>
<text x="276.2" y="74.2" font-size="17" text-anchor="start" fill="#d42a2a" stroke="#d42a2a"  ><tspan font-style="italic">ϕ</tspan> = 90°</text>
<text x="240.6" y="185.6" font-size="17.3" text-anchor="start" fill="#2a22b8" stroke="#2a22b8"  ><tspan font-style="italic">ϕ</tspan> = 0°</text>
<text x="-0.1" y="16.8" font-size="24" text-anchor="start" fill="#000" stroke="#000"  >(a)</text>
<text x="89.9" y="34.6" font-size="18.5" text-anchor="end" fill="#000" stroke="#000"  >3.7</text>
<text x="89.9" y="67.95" font-size="18.5" text-anchor="end" fill="#000" stroke="#000"  >3.6</text>
<text x="89.9" y="103.10000000000001" font-size="18.5" text-anchor="end" fill="#000" stroke="#000"  >3.5</text>
<text x="89.9" y="137.89999999999998" font-size="18.5" text-anchor="end" fill="#000" stroke="#000"  >3.4</text>
<text x="89.9" y="173.2" font-size="18.5" text-anchor="end" fill="#000" stroke="#000"  >3.3</text>
<text x="89.9" y="206.1" font-size="18.5" text-anchor="end" fill="#000" stroke="#000"  >3.2</text>
<text x="103" y="221.6" font-size="18.5" text-anchor="middle" fill="#000" stroke="#000"  >0</text>
<text x="160.2" y="221.6" font-size="18.5" text-anchor="middle" fill="#000" stroke="#000"  >20</text>
<text x="219.2" y="221.6" font-size="18.5" text-anchor="middle" fill="#000" stroke="#000"  >40</text>
<text x="278.5" y="221.6" font-size="18.5" text-anchor="middle" fill="#000" stroke="#000"  >60</text>
<text x="336.7" y="221.6" font-size="18.5" text-anchor="middle" fill="#000" stroke="#000"  >80</text>
<text x="143.0" y="241.7" font-size="17.8" text-anchor="start" fill="#000" stroke="#000"  >Wave number<tspan x="248.3">(cm</tspan><tspan dy="-4.2" font-size="11">−1</tspan><tspan dy="4.2">)</tspan></text>
<text x="47.3" y="111.6" font-size="18.8" text-anchor="middle" fill="#000" stroke="#000"  transform="rotate(-90 47.3 111.6)">Frequency (GHz)</text>
<text x="120.0" y="283.2" font-size="12" text-anchor="start" fill="#000" stroke="#000"  ><tspan font-style="italic">2g</tspan><tspan font-size="8.5" dy="2.5">eff</tspan><tspan font-style="italic" dy="-2.5">/2π</tspan></text>
<text x="151.6" y="299.2" font-size="11.8" text-anchor="start" fill="#000" stroke="#000"  >0 cm<tspan dy="-4.2" font-size="8">-1</tspan></text>
<text x="151.6" y="312.4" font-size="11.8" text-anchor="start" fill="#000" stroke="#000"  >20 cm<tspan dy="-4.2" font-size="8">-1</tspan></text>
<text x="151.6" y="325.7" font-size="11.8" text-anchor="start" fill="#000" stroke="#000"  >40 cm<tspan dy="-4.2" font-size="8">-1</tspan></text>
<text x="151.6" y="339.0" font-size="11.8" text-anchor="start" fill="#000" stroke="#000"  >60 cm<tspan dy="-4.2" font-size="8">-1</tspan></text>
<text x="126.6" y="371.0" font-size="15" text-anchor="start" fill="#000" stroke="#000"  ><tspan font-style="italic">k</tspan><tspan font-size="9.8" dy="3.6">sw</tspan><tspan dy="-3.6"> (cm</tspan><tspan dy="-5.5" font-size="10">-1</tspan><tspan dy="5.5">)</tspan></text>
<text x="149.5" y="388.6" font-size="15.5" text-anchor="start" fill="#000" stroke="#000"  >0</text>
<text x="149.5" y="405.3" font-size="15.5" text-anchor="start" fill="#000" stroke="#000"  >20</text>
<text x="149.5" y="421.4" font-size="15.5" text-anchor="start" fill="#000" stroke="#000"  >40</text>
<text x="149.5" y="437.2" font-size="15.5" text-anchor="start" fill="#000" stroke="#000"  >60</text>
<text x="295.6" y="300.4" font-size="16" text-anchor="start" fill="#000" stroke="#000"  ><tspan font-style="italic">ϕ</tspan> = 0°</text>
<text x="297.2" y="337.0" font-size="12.3" text-anchor="start" fill="#000" stroke="#000"  >ISRR</text>
<text x="105.7" y="478.6" font-size="12" text-anchor="start" fill="#000" stroke="#000"  ><tspan font-style="italic">2g</tspan><tspan font-size="8.5" dy="2.5">eff</tspan><tspan font-style="italic" dy="-2.5">/2π</tspan></text>
<text x="134.9" y="496.2" font-size="11.8" text-anchor="start" fill="#000" stroke="#000"  >0 cm<tspan dy="-4.2" font-size="8">-1</tspan></text>
<text x="134.9" y="508.9" font-size="11.8" text-anchor="start" fill="#000" stroke="#000"  >20 cm<tspan dy="-4.2" font-size="8">-1</tspan></text>
<text x="134.9" y="522.0" font-size="11.8" text-anchor="start" fill="#000" stroke="#000"  >40 cm<tspan dy="-4.2" font-size="8">-1</tspan></text>
<text x="134.9" y="535.4" font-size="11.8" text-anchor="start" fill="#000" stroke="#000"  >60 cm<tspan dy="-4.2" font-size="8">-1</tspan></text>
<text x="275.6" y="569.3" font-size="15" text-anchor="start" fill="#000" stroke="#000"  ><tspan font-style="italic">k</tspan><tspan font-size="9.8" dy="3.6">sw</tspan><tspan dy="-3.6"> (cm</tspan><tspan dy="-5.5" font-size="10">-1</tspan><tspan dy="5.5">)</tspan></text>
<text x="303.5" y="584.9" font-size="15.5" text-anchor="start" fill="#000" stroke="#000"  >0</text>
<text x="303.5" y="601.3" font-size="15.5" text-anchor="start" fill="#000" stroke="#000"  >20</text>
<text x="303.5" y="617.7" font-size="15.5" text-anchor="start" fill="#000" stroke="#000"  >40</text>
<text x="303.5" y="634.0" font-size="15.5" text-anchor="start" fill="#000" stroke="#000"  >60</text>
<text x="283.1" y="491.7" font-size="15.2" text-anchor="start" fill="#000" stroke="#000"  ><tspan font-style="italic">ϕ</tspan> = 90°</text>
<text x="291.7" y="528.7" font-size="12.3" text-anchor="start" fill="#000" stroke="#000"  >ISRR</text>
<text x="90.4" y="270.09999999999997" font-size="18" text-anchor="end" fill="#000" stroke="#000"  >3.9</text>
<text x="90.4" y="314.4" font-size="18" text-anchor="end" fill="#000" stroke="#000"  >3.8</text>
<text x="90.4" y="359.09999999999997" font-size="18" text-anchor="end" fill="#000" stroke="#000"  >3.7</text>
<text x="90.4" y="405.2" font-size="18" text-anchor="end" fill="#000" stroke="#000"  >3.6</text>
<text x="90.4" y="448.0" font-size="18" text-anchor="end" fill="#000" stroke="#000"  >3.5</text>
<text x="90.4" y="466.4" font-size="18" text-anchor="end" fill="#000" stroke="#000"  >3.9</text>
<text x="90.4" y="510.59999999999997" font-size="18" text-anchor="end" fill="#000" stroke="#000"  >3.8</text>
<text x="90.4" y="557.1999999999999" font-size="18" text-anchor="end" fill="#000" stroke="#000"  >3.7</text>
<text x="90.4" y="603.3" font-size="18" text-anchor="end" fill="#000" stroke="#000"  >3.6</text>
<text x="90.4" y="643.1" font-size="18" text-anchor="end" fill="#000" stroke="#000"  >3.5</text>
<text x="98.2" y="661.0" font-size="18.5" text-anchor="middle" fill="#000" stroke="#000"  >0.5</text>
<text x="157.3" y="661.0" font-size="18.5" text-anchor="middle" fill="#000" stroke="#000"  >0.6</text>
<text x="219.4" y="661.0" font-size="18.5" text-anchor="middle" fill="#000" stroke="#000"  >0.7</text>
<text x="280.6" y="661.0" font-size="18.5" text-anchor="middle" fill="#000" stroke="#000"  >0.8</text>
<text x="337.9" y="661.0" font-size="18.5" text-anchor="middle" fill="#000" stroke="#000"  >0.9</text>
<text x="141.6" y="681.0" font-size="17.8" text-anchor="start" fill="#000" stroke="#000"  >Magnetic field</text>
<text x="251.6" y="681.0" font-size="17.8" text-anchor="start" fill="#000" stroke="#000"  textLength="43.2" lengthAdjust="spacing">(kOe)</text>
<text x="47.3" y="442.2" font-size="18.8" text-anchor="middle" fill="#000" stroke="#000"  transform="rotate(-90 47.3 442.2)">Frequency (GHz)</text>
<text x="-0.1" y="275.5" font-size="24" text-anchor="start" fill="#000" stroke="#000"  >(b)</text>
</svg>
</body></html>
